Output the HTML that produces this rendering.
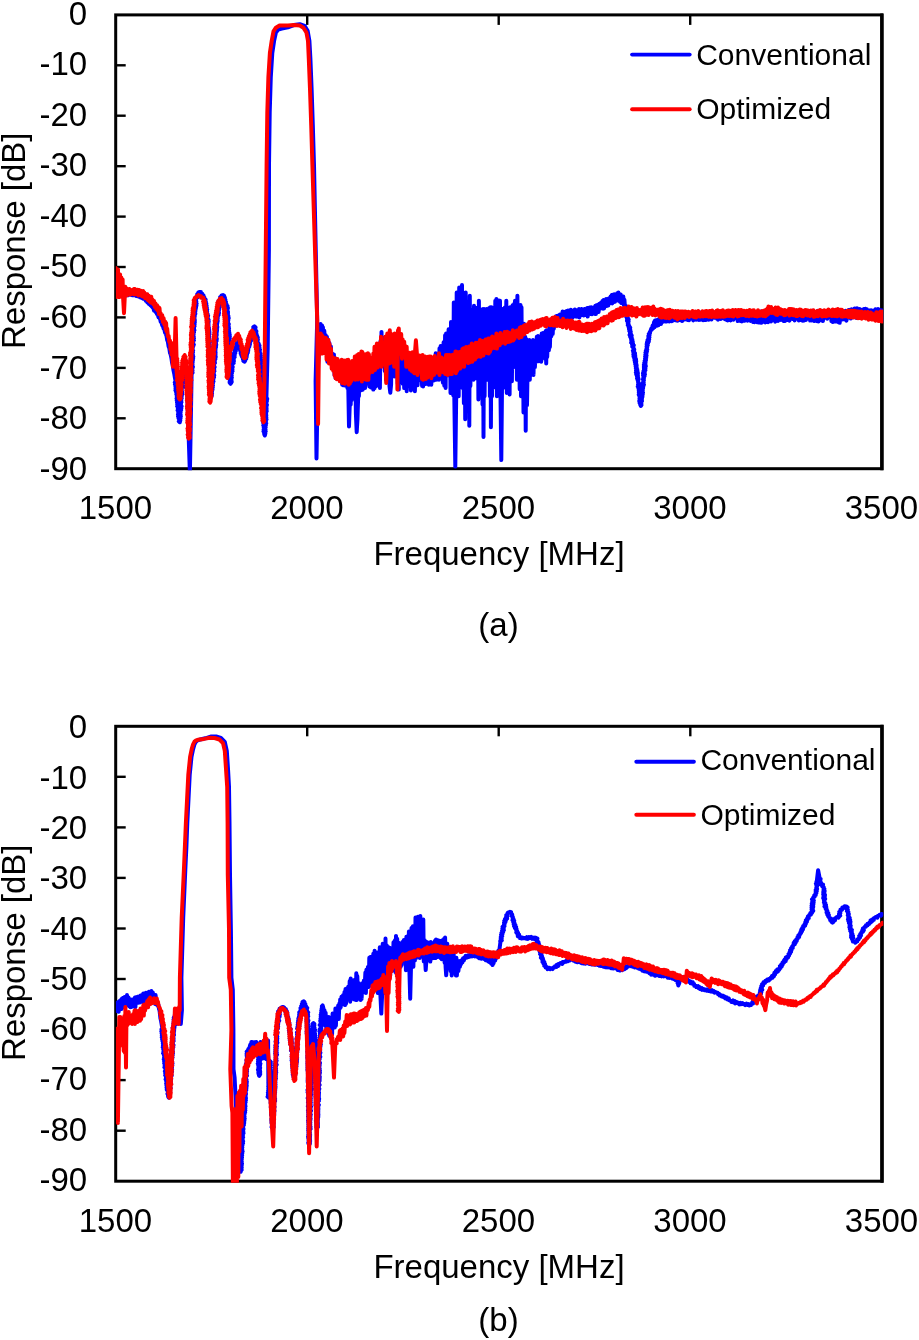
<!DOCTYPE html>
<html><head><meta charset="utf-8"><title>Response vs Frequency</title>
<style>
html,body{margin:0;padding:0;background:#fff;}
svg{display:block}
.t{font-family:"Liberation Sans",sans-serif;font-size:33px;fill:#000}
.l{font-family:"Liberation Sans",sans-serif;font-size:30px;fill:#000}
</style></head><body>
<svg width="919" height="1340" viewBox="0 0 919 1340">
<rect width="919" height="1340" fill="#fff"/>
<clipPath id="c1"><rect x="115.9" y="14.9" width="767.3" height="455.3"/></clipPath>
<rect x="115.7" y="14.9" width="766.0" height="453.8" fill="none" stroke="#000" stroke-width="3"/>
<line x1="882.0" y1="13.4" x2="882.0" y2="470.2" stroke="#000" stroke-width="3.4"/>
<line x1="115.7" y1="65.3" x2="125.7" y2="65.3" stroke="#000" stroke-width="2.4"/>
<line x1="115.7" y1="115.7" x2="125.7" y2="115.7" stroke="#000" stroke-width="2.4"/>
<line x1="115.7" y1="166.2" x2="125.7" y2="166.2" stroke="#000" stroke-width="2.4"/>
<line x1="115.7" y1="216.6" x2="125.7" y2="216.6" stroke="#000" stroke-width="2.4"/>
<line x1="115.7" y1="267.0" x2="125.7" y2="267.0" stroke="#000" stroke-width="2.4"/>
<line x1="115.7" y1="317.4" x2="125.7" y2="317.4" stroke="#000" stroke-width="2.4"/>
<line x1="115.7" y1="367.9" x2="125.7" y2="367.9" stroke="#000" stroke-width="2.4"/>
<line x1="115.7" y1="418.3" x2="125.7" y2="418.3" stroke="#000" stroke-width="2.4"/>
<line x1="307.2" y1="14.9" x2="307.2" y2="24.9" stroke="#000" stroke-width="2.4"/>
<line x1="498.7" y1="14.9" x2="498.7" y2="24.9" stroke="#000" stroke-width="2.4"/>
<line x1="690.2" y1="14.9" x2="690.2" y2="24.9" stroke="#000" stroke-width="2.4"/>
<path clip-path="url(#c1)" d="M115.9,283.6 L116.6,274.1 L117.4,292.0 L118.1,279.3 L118.9,293.4 L119.6,280.0 L120.3,292.9 L121.1,282.0 L121.8,294.0 L122.6,285.9 L123.3,293.0 L124.0,287.8 L124.5,296.1 L125.0,289.2 L125.6,295.6 L126.2,291.7 L126.7,295.3 L127.2,292.3 L127.9,295.3 L128.7,292.8 L129.4,294.0 L130.1,292.8 L130.9,294.7 L131.6,292.8 L132.4,295.3 L133.1,293.2 L133.9,295.3 L134.4,293.4 L134.9,295.3 L135.4,293.7 L136.1,295.9 L136.9,294.4 L137.6,296.2 L138.3,295.1 L139.1,296.7 L139.8,295.6 L140.6,297.4 L141.3,296.2 L142.1,298.0 L142.6,296.6 L143.1,298.6 L143.6,297.7 L144.3,299.0 L145.1,298.9 L145.8,300.7 L146.6,300.1 L147.3,302.5 L148.0,301.4 L148.8,303.9 L149.5,302.9 L150.3,305.1 L150.8,304.0 L151.3,305.9 L151.8,305.2 L152.5,307.4 L153.3,307.7 L154.0,310.4 L154.8,309.7 L155.5,311.9 L156.3,312.0 L157.0,314.1 L157.7,314.2 L158.5,317.1 L159.0,316.3 L159.5,318.3 L160.0,318.4 L160.7,321.8 L161.4,321.8 L162.2,325.4 L162.9,325.8 L163.6,328.6 L164.3,329.1 L165.1,332.7 L165.6,332.7 L166.1,334.7 L166.5,335.8 L167.2,340.1 L167.9,341.9 L168.6,346.5 L169.3,348.1 L170.0,352.9 L170.5,354.1 L171.0,356.0 L171.4,358.0 L172.1,362.9 L172.8,365.8 L173.5,370.4 L174.2,373.5 L174.9,377.7 L175.6,381.3 L174.8,382.4 L176.4,383.2 L175.0,384.4 L176.5,385.3 L175.5,386.4 L177.2,387.2 L175.6,388.4 L176.8,389.3 L175.5,390.4 L177.1,391.3 L176.2,392.4 L177.7,393.2 L176.4,394.4 L177.6,395.3 L176.8,396.3 L177.6,397.3 L176.6,398.4 L177.9,399.3 L176.8,400.4 L178.2,401.3 L177.1,402.4 L178.9,403.2 L177.3,404.4 L178.8,405.2 L177.2,406.4 L178.7,407.3 L177.9,408.4 L179.4,409.2 L177.6,410.4 L179.1,411.3 L178.3,412.4 L179.7,413.2 L178.0,414.4 L179.5,415.3 L178.1,416.4 L180.2,417.2 L178.6,418.4 L180.1,419.3 L179.2,420.4 L180.0,421.3 L179.8,422.3 L178.8,421.3 L180.3,420.3 L179.1,419.2 L180.5,418.3 L179.1,417.2 L180.8,416.3 L179.6,415.2 L180.6,414.3 L179.4,413.2 L180.6,412.2 L179.8,411.2 L181.1,410.2 L179.5,409.1 L181.3,408.2 L180.0,407.1 L181.6,406.2 L180.2,405.1 L181.0,404.1 L180.2,403.1 L181.4,402.1 L180.5,401.0 L181.3,400.1 L180.4,399.0 L181.7,398.1 L180.7,397.0 L181.7,396.0 L180.2,394.9 L182.3,394.0 L180.5,392.9 L182.1,392.0 L180.6,390.9 L181.8,389.9 L181.1,388.9 L181.9,387.9 L180.6,386.8 L182.5,385.9 L180.7,384.8 L182.1,383.9 L181.0,382.8 L182.5,381.9 L181.0,380.8 L182.5,379.8 L181.0,378.7 L182.4,377.8 L181.4,376.7 L183.0,375.8 L182.2,374.7 L183.3,373.9 L181.7,372.6 L183.5,371.8 L181.9,370.5 L184.0,369.8 L182.6,368.5 L184.1,367.7 L182.5,366.4 L184.5,365.6 L183.1,364.4 L184.8,363.6 L183.1,362.3 L184.9,361.5 L183.6,360.3 L185.1,359.4 L184.7,358.3 L184.0,359.4 L185.6,360.3 L184.5,361.4 L185.8,362.3 L184.0,363.4 L186.1,364.3 L184.4,365.4 L185.9,366.3 L184.5,367.4 L186.2,368.3 L184.9,369.4 L186.6,370.3 L185.3,371.4 L186.7,372.3 L185.5,373.4 L186.7,374.4 L185.4,375.5 L186.6,376.4 L185.4,377.5 L186.9,378.4 L185.6,379.5 L187.4,380.4 L186.0,381.5 L186.9,382.4 L186.1,383.5 L187.6,384.4 L186.4,385.5 L187.3,386.5 L186.0,387.6 L187.9,388.4 L187.1,389.5 L189.9,473.2 L191.6,374.7 L191.0,373.7 L192.6,372.7 L191.1,371.7 L192.5,370.7 L191.3,369.7 L192.4,368.7 L190.9,367.6 L192.9,366.7 L190.9,365.6 L192.5,364.7 L191.2,363.6 L192.6,362.6 L191.6,361.6 L192.8,360.6 L191.2,359.5 L193.1,358.6 L191.4,357.5 L193.3,356.6 L191.8,355.5 L192.8,354.6 L191.7,353.5 L192.9,352.5 L192.0,351.5 L193.1,350.5 L191.7,349.5 L192.6,348.5 L191.9,347.4 L193.2,346.5 L191.8,345.4 L193.8,344.5 L192.2,343.3 L193.2,342.4 L192.6,341.3 L193.9,340.4 L192.7,339.3 L193.9,338.3 L192.4,337.2 L193.7,336.3 L192.3,335.2 L193.6,334.2 L192.9,333.2 L194.0,332.2 L193.1,331.1 L194.4,330.2 L193.0,329.1 L194.0,328.1 L193.3,327.1 L194.5,326.1 L193.1,325.0 L194.6,324.1 L193.0,323.0 L194.8,322.0 L192.9,320.9 L194.8,320.0 L194.0,318.9 L194.6,317.9 L193.6,316.8 L194.8,315.9 L194.2,314.8 L195.3,313.8 L193.9,312.6 L195.3,311.7 L194.4,310.6 L195.6,309.7 L194.3,308.5 L196.0,307.6 L194.6,306.4 L196.4,305.6 L195.0,304.4 L196.6,303.5 L194.9,302.2 L196.3,301.4 L195.1,300.2 L196.2,299.2 L195.8,298.0 L197.4,297.6 L196.8,296.2 L198.5,295.9 L197.3,294.2 L199.2,293.9 L198.4,292.5 L199.4,291.9 L200.9,292.0 L200.2,294.1 L202.3,293.7 L201.8,295.6 L203.6,295.4 L203.3,297.1 L204.4,297.6 L203.7,298.7 L205.6,299.5 L204.1,300.8 L205.8,301.5 L204.7,302.7 L206.3,303.5 L204.4,304.9 L206.6,305.6 L205.1,306.8 L206.8,307.6 L205.5,308.9 L207.2,309.6 L205.5,310.9 L207.1,311.7 L206.3,312.9 L207.5,313.8 L206.3,315.0 L208.1,315.7 L206.7,317.0 L207.8,317.9 L207.7,318.9 L208.6,319.9 L207.4,321.0 L208.7,321.9 L207.4,323.0 L208.5,324.0 L207.1,325.1 L208.5,326.0 L207.7,327.1 L208.9,328.1 L207.4,329.2 L209.2,330.1 L207.5,331.2 L209.4,332.1 L207.8,333.2 L209.5,334.2 L208.2,335.3 L209.1,336.2 L208.0,337.3 L209.3,338.3 L207.9,339.4 L209.6,340.3 L208.2,341.4 L209.9,342.3 L208.3,343.4 L209.6,344.4 L208.5,345.5 L210.1,346.4 L208.3,347.5 L209.3,348.5 L208.9,349.5 L210.3,350.5 L208.4,351.5 L210.1,352.5 L208.7,353.5 L210.0,354.5 L208.8,355.5 L210.2,356.5 L208.8,357.5 L210.0,358.5 L208.6,359.6 L210.4,360.5 L209.1,361.6 L210.7,362.5 L209.1,363.6 L210.5,364.5 L209.0,365.6 L210.3,366.5 L209.2,367.6 L210.6,368.5 L209.0,369.6 L211.0,370.5 L209.6,371.6 L210.8,372.6 L209.7,373.6 L210.8,374.6 L209.3,375.6 L211.2,376.6 L209.6,377.6 L210.8,378.6 L209.9,379.6 L211.1,380.6 L209.4,381.7 L210.8,382.6 L209.6,383.7 L210.8,384.6 L210.1,385.7 L211.0,386.6 L209.8,387.7 L211.2,388.6 L210.1,389.7 L211.5,390.7 L210.3,391.7 L211.6,392.7 L210.4,393.7 L211.5,394.7 L210.4,395.7 L211.4,396.7 L210.9,397.7 L210.3,396.6 L211.8,395.7 L210.7,394.6 L212.0,393.7 L210.7,392.5 L212.0,391.6 L211.2,390.5 L212.5,389.6 L211.1,388.4 L212.7,387.5 L211.1,386.3 L212.9,385.5 L211.3,384.3 L212.9,383.4 L211.6,382.2 L213.5,381.4 L211.7,380.2 L213.3,379.3 L212.3,378.2 L214.0,377.3 L212.6,376.1 L214.2,375.2 L212.3,374.0 L213.8,373.1 L213.0,372.0 L214.4,371.1 L213.2,370.0 L214.2,369.0 L213.0,367.9 L214.6,367.0 L213.2,365.8 L214.2,364.9 L213.9,363.9 L214.9,362.9 L213.6,361.8 L214.8,360.9 L214.1,359.9 L215.4,358.9 L213.7,357.8 L215.7,356.9 L214.4,355.9 L215.5,354.9 L214.0,353.8 L215.6,352.9 L214.2,351.8 L215.5,350.9 L214.8,349.9 L215.6,348.9 L214.9,347.9 L216.0,346.9 L214.7,345.8 L216.2,344.9 L215.1,343.8 L216.0,342.9 L215.1,341.8 L216.6,340.9 L214.7,339.8 L216.8,338.9 L215.5,337.8 L216.3,336.9 L214.9,335.8 L216.7,334.9 L215.2,333.8 L216.7,332.9 L215.5,331.8 L217.0,330.9 L215.7,329.8 L217.1,328.9 L216.1,327.8 L217.3,326.9 L215.6,325.8 L217.1,324.9 L216.7,323.9 L217.4,322.9 L216.1,321.7 L217.7,320.9 L216.7,319.7 L217.7,318.8 L216.7,317.6 L217.9,316.7 L216.7,315.5 L218.7,314.7 L217.1,313.5 L219.0,312.7 L217.4,311.5 L218.9,310.6 L217.7,309.4 L219.2,308.6 L217.6,307.3 L219.7,306.5 L218.4,305.3 L220.0,304.5 L218.3,303.2 L220.1,302.4 L218.5,301.2 L220.1,300.3 L219.6,299.2 L221.1,299.0 L220.2,297.0 L222.2,297.3 L221.6,295.4 L222.9,295.1 L224.1,295.8 L223.1,297.4 L224.9,297.8 L224.2,299.3 L225.4,299.9 L224.7,301.4 L226.0,302.0 L225.6,303.4 L226.5,304.2 L225.8,305.2 L227.5,306.1 L226.3,307.2 L227.9,308.1 L226.2,309.2 L227.6,310.1 L226.4,311.3 L228.0,312.1 L226.6,313.3 L228.0,314.1 L226.5,315.3 L228.4,316.1 L226.9,317.3 L228.7,318.1 L226.9,319.3 L228.3,320.2 L227.3,321.3 L228.2,322.2 L227.4,323.3 L228.8,324.2 L227.7,325.3 L228.7,326.3 L227.9,327.3 L229.0,328.3 L228.1,329.4 L229.0,330.3 L227.6,331.4 L229.3,332.4 L228.0,333.5 L229.7,334.4 L228.0,335.5 L229.8,336.4 L228.1,337.5 L229.8,338.5 L228.6,339.5 L229.7,340.5 L228.2,341.6 L229.4,342.6 L228.1,343.7 L229.6,344.6 L228.5,345.7 L229.7,346.6 L228.6,347.7 L230.1,348.7 L229.0,349.7 L230.4,350.7 L229.5,351.8 L230.1,352.7 L228.9,353.8 L230.3,354.7 L229.0,355.8 L230.2,356.7 L228.9,357.8 L230.5,358.7 L229.2,359.8 L230.6,360.7 L229.3,361.8 L230.2,362.7 L229.4,363.8 L230.3,364.7 L229.6,365.8 L230.9,366.7 L229.5,367.8 L231.1,368.7 L229.3,369.8 L230.5,370.7 L229.2,371.8 L231.2,372.7 L229.9,373.8 L231.3,374.7 L229.7,375.8 L231.0,376.7 L229.4,377.8 L230.9,378.7 L229.8,379.8 L231.5,380.7 L229.7,381.8 L231.3,382.7 L230.6,383.8 L229.7,382.6 L231.7,381.7 L230.1,380.5 L231.4,379.6 L230.3,378.5 L231.8,377.5 L230.8,376.4 L231.7,375.4 L230.8,374.3 L231.9,373.3 L231.0,372.2 L232.5,371.2 L231.2,370.1 L232.4,369.1 L231.3,368.0 L232.7,367.0 L231.3,365.9 L232.3,364.9 L231.8,363.7 L233.7,363.1 L231.8,361.7 L233.9,361.0 L232.7,359.7 L233.8,358.9 L232.6,357.6 L234.7,357.0 L233.2,355.7 L234.7,354.9 L233.8,353.7 L235.3,352.9 L234.7,351.8 L235.8,351.0 L234.7,349.5 L236.5,349.0 L235.2,347.5 L236.8,347.0 L236.2,345.7 L238.0,345.2 L236.4,343.6 L238.6,343.2 L238.0,341.9 L238.0,343.1 L238.9,344.0 L238.3,345.3 L239.7,346.1 L238.6,347.6 L239.7,348.5 L239.6,349.5 L241.0,350.1 L240.4,351.4 L241.4,352.1 L240.7,353.4 L242.4,353.8 L241.4,355.3 L243.0,355.8 L242.2,357.1 L243.6,357.7 L243.0,359.0 L244.7,359.4 L243.4,361.0 L244.6,361.6 L245.2,360.7 L244.7,359.5 L246.2,358.7 L244.9,357.3 L246.7,356.7 L245.7,355.3 L247.0,354.6 L246.1,353.3 L247.8,352.6 L246.6,351.2 L248.2,350.5 L246.6,349.0 L248.5,348.4 L247.5,347.1 L249.3,346.4 L248.7,345.2 L249.9,344.5 L248.7,343.0 L250.2,342.4 L249.5,341.1 L251.1,340.5 L250.1,339.1 L251.2,338.3 L250.4,337.0 L252.0,336.4 L250.9,335.0 L252.5,334.4 L251.5,333.0 L253.0,332.4 L252.5,331.1 L254.0,330.5 L253.2,329.2 L254.3,328.5 L253.3,327.1 L254.4,326.3 L255.5,327.2 L254.4,328.5 L255.5,329.3 L254.7,330.6 L256.4,331.3 L255.2,332.7 L256.4,333.5 L255.4,334.8 L257.1,335.5 L255.6,336.9 L257.8,337.5 L256.1,339.0 L257.9,339.7 L256.6,341.1 L257.7,341.9 L257.4,343.0 L258.7,343.8 L257.8,345.0 L259.5,345.6 L257.8,347.0 L259.5,347.7 L258.6,348.9 L260.0,349.7 L259.1,350.9 L259.8,351.8 L259.3,352.8 L260.6,353.7 L259.6,354.8 L260.8,355.7 L259.2,356.8 L260.9,357.7 L259.3,358.8 L261.0,359.7 L259.9,360.8 L261.3,361.7 L259.5,362.8 L261.0,363.7 L260.2,364.8 L261.3,365.7 L259.9,366.8 L261.4,367.7 L259.7,368.8 L261.6,369.7 L260.0,370.8 L261.3,371.7 L260.3,372.8 L261.9,373.7 L260.7,374.8 L261.5,375.7 L260.3,376.8 L262.2,377.7 L260.9,378.7 L262.1,379.7 L261.0,380.7 L262.3,381.7 L260.7,382.8 L262.1,383.7 L261.1,384.7 L262.5,385.7 L261.0,386.8 L262.6,387.7 L261.2,388.8 L262.4,389.7 L260.9,390.8 L262.8,391.7 L261.4,392.8 L262.8,393.7 L261.3,394.8 L263.0,395.7 L261.3,396.8 L262.3,397.7 L261.8,398.8 L263.4,399.7 L261.7,400.8 L263.5,401.7 L261.7,402.9 L263.6,403.8 L261.8,404.9 L263.9,405.8 L262.1,406.9 L263.7,407.9 L262.2,409.0 L264.0,409.9 L262.6,411.0 L263.9,412.0 L262.9,413.0 L264.2,414.0 L262.4,415.1 L264.1,416.0 L263.1,417.1 L264.1,418.1 L263.1,419.2 L264.3,420.1 L262.8,421.2 L264.3,422.2 L263.4,423.3 L264.4,424.2 L263.3,425.3 L265.1,426.2 L263.8,427.3 L264.7,428.3 L263.7,429.4 L265.2,430.3 L263.5,431.4 L264.9,432.4 L264.2,433.4 L265.2,434.4 L264.8,435.5 L264.3,434.4 L265.3,433.4 L264.1,432.4 L265.7,431.4 L264.5,430.3 L265.5,429.4 L264.6,428.3 L265.6,427.3 L264.3,426.2 L265.8,425.3 L264.5,424.2 L266.2,423.3 L264.7,422.2 L265.9,421.2 L264.5,420.1 L266.5,419.2 L265.0,418.1 L266.3,417.1 L264.6,416.0 L266.3,415.1 L265.2,414.0 L266.1,413.0 L264.8,411.9 L266.7,411.0 L265.3,409.9 L266.6,409.0 L265.3,407.9 L266.5,406.9 L265.0,405.8 L266.9,404.9 L265.7,403.8 L266.5,402.8 L265.6,401.8 L266.9,400.8 L265.4,399.7 L267.2,398.8 L266.4,397.7 L267.7,348.5 L268.9,250.0 L269.0,165.0 L269.7,112.7 L270.8,76.8 L272.3,52.9 L274.1,40.9 L275.9,32.5 L278.3,29.5 L281.9,28.6 L287.9,27.4 L293.9,25.1 L299.8,24.2 L304.6,25.9 L307.6,30.7 L309.4,40.9 L310.4,58.9 L311.6,88.8 L312.8,124.7 L314.0,165.0 L317.2,320.0 L315.6,381.3 L316.5,458.4 L318.1,364.9 L320.6,323.9 L321.4,330.5 L322.0,325.4 L322.5,340.4 L322.9,327.2 L323.6,345.0 L324.3,330.8 L325.0,345.1 L325.7,335.2 L326.4,353.3 L326.9,336.8 L327.4,361.7 L327.9,339.5 L328.6,360.5 L329.4,342.9 L330.1,360.7 L330.9,346.5 L331.6,363.3 L332.4,353.8 L333.1,366.5 L333.9,354.4 L334.6,375.4 L335.1,358.2 L335.6,378.2 L336.1,358.8 L336.8,376.6 L337.5,361.1 L338.3,372.4 L339.0,362.8 L339.7,375.0 L340.4,362.7 L341.2,377.2 L341.7,363.1 L342.2,384.7 L342.6,367.3 L343.3,385.3 L344.1,367.6 L344.8,385.4 L345.5,366.9 L346.2,383.5 L346.9,366.2 L347.4,388.0 L347.9,366.4 L349.0,426.4 L350.0,397.1 L350.7,404.4 L351.2,366.4 L351.8,400.0 L352.6,368.6 L353.4,390.5 L354.2,367.7 L354.8,396.2 L355.3,366.4 L355.9,414.0 L356.7,432.2 L357.5,418.8 L358.3,392.1 L358.9,396.2 L359.4,366.4 L359.9,388.3 L360.6,366.4 L361.3,390.3 L362.0,369.5 L362.7,389.8 L363.4,368.4 L364.2,385.9 L364.6,366.4 L365.1,388.0 L365.6,370.4 L366.4,381.1 L367.1,365.9 L367.9,383.5 L368.6,365.6 L369.4,386.4 L370.1,366.3 L370.9,387.4 L371.6,364.7 L372.3,386.6 L372.8,363.1 L373.3,389.6 L373.8,362.4 L374.6,388.1 L375.3,362.5 L376.0,386.2 L376.7,361.9 L377.5,382.1 L378.2,357.3 L378.9,385.0 L379.4,350.0 L379.9,388.0 L380.5,341.1 L381.0,363.4 L381.5,331.9 L382.0,365.3 L382.7,338.5 L383.4,361.2 L384.1,338.1 L384.8,371.0 L385.5,346.0 L386.0,379.8 L386.5,341.8 L387.0,379.3 L387.9,342.6 L388.4,379.8 L388.9,341.8 L389.5,385.9 L390.3,392.8 L391.1,384.5 L391.7,336.8 L392.2,376.5 L392.8,339.1 L393.6,370.0 L394.2,336.8 L394.7,376.5 L395.2,344.8 L396.1,368.5 L396.9,346.6 L397.7,383.6 L398.3,350.0 L398.8,389.6 L398.0,356.5 L398.5,389.6 L399.0,358.5 L399.7,381.3 L400.4,363.8 L401.2,380.0 L401.9,361.5 L402.7,383.7 L403.4,358.6 L404.2,388.1 L404.9,360.5 L405.7,383.7 L406.2,359.8 L406.7,391.3 L407.2,361.6 L407.9,386.2 L408.7,365.0 L409.4,381.1 L410.1,364.2 L410.9,390.4 L411.6,365.9 L412.4,380.1 L413.1,364.8 L413.9,388.6 L414.4,363.1 L414.9,391.3 L415.4,363.5 L416.1,383.1 L416.9,368.7 L417.6,385.2 L418.3,366.9 L419.1,380.1 L419.8,364.6 L420.6,378.0 L421.3,366.7 L422.1,385.9 L422.6,364.7 L423.1,386.4 L423.6,365.1 L424.3,381.8 L425.1,366.8 L425.8,383.9 L426.6,367.9 L427.3,383.4 L428.0,365.1 L428.8,384.7 L429.5,367.6 L430.3,384.4 L430.8,363.1 L431.3,384.7 L431.7,363.5 L432.4,379.0 L433.1,360.9 L433.8,380.4 L434.5,360.4 L435.3,369.0 L435.7,353.3 L436.2,379.8 L436.8,354.6 L437.6,379.2 L438.4,354.1 L439.0,379.8 L439.5,348.3 L440.0,367.7 L440.7,345.9 L441.4,374.9 L442.2,348.1 L442.9,382.8 L443.6,342.3 L444.3,385.7 L445.1,335.3 L445.6,388.0 L446.1,333.6 L446.5,363.6 L447.2,341.0 L447.9,375.3 L448.6,329.2 L449.3,375.1 L450.0,332.4 L450.5,392.9 L451.0,322.1 L451.5,378.1 L452.4,324.1 L453.2,395.3 L453.8,302.4 L454.3,396.2 L455.3,466.6 L456.2,396.2 L456.7,292.5 L457.3,384.8 L458.1,298.4 L458.7,396.2 L459.2,287.6 L459.8,376.1 L460.6,289.2 L461.4,370.0 L462.0,285.1 L462.5,388.0 L463.0,298.2 L463.9,403.2 L464.7,304.0 L465.2,419.2 L465.7,292.5 L466.3,366.7 L467.1,305.7 L468.0,404.5 L468.8,302.0 L469.3,425.8 L469.8,295.8 L470.4,386.0 L471.2,314.0 L472.1,369.9 L472.9,309.5 L473.5,379.8 L474.0,305.7 L474.4,355.8 L475.1,317.1 L475.8,378.3 L476.5,307.9 L477.2,376.3 L477.9,317.8 L478.4,399.5 L478.9,300.7 L479.4,383.7 L480.3,309.6 L481.1,365.0 L481.9,310.8 L482.5,404.4 L483.0,308.9 L483.5,437.1 L484.1,308.9 L484.6,396.2 L485.2,319.2 L486.0,369.4 L486.6,308.9 L487.1,379.8 L487.7,311.1 L488.5,371.6 L489.3,308.0 L489.9,396.2 L490.4,307.3 L490.9,427.3 L491.5,307.3 L492.0,396.2 L492.6,310.0 L493.4,387.6 L494.2,311.8 L494.8,379.8 L495.3,300.7 L495.9,383.4 L496.4,299.1 L496.9,396.2 L497.4,304.2 L498.1,391.2 L498.8,300.4 L499.6,358.7 L500.0,300.7 L500.5,396.2 L501.3,460.1 L502.0,388.0 L502.5,308.9 L503.0,388.0 L503.5,310.6 L504.1,362.9 L504.9,307.4 L505.7,366.0 L506.3,300.7 L506.8,392.9 L507.3,318.0 L508.2,392.5 L509.0,318.1 L509.6,394.6 L510.1,307.3 L510.5,375.3 L511.2,320.3 L511.9,381.2 L512.6,305.3 L513.3,367.2 L514.0,304.1 L514.5,363.4 L515.0,300.7 L515.6,342.3 L516.4,308.8 L516.9,379.8 L517.4,295.8 L518.0,374.9 L518.8,308.1 L519.7,389.3 L520.5,305.1 L521.0,396.2 L521.5,307.3 L522.1,394.8 L522.9,324.5 L523.5,412.6 L524.0,323.7 L524.6,381.9 L525.2,336.8 L525.7,430.7 L526.2,339.1 L527.0,405.1 L527.9,349.7 L528.7,370.7 L529.3,340.1 L529.8,379.8 L530.3,346.1 L531.0,374.3 L531.8,342.5 L532.5,374.7 L533.0,340.1 L533.5,374.9 L534.1,345.7 L534.9,367.1 L535.7,340.4 L536.3,361.7 L536.8,336.8 L537.3,352.3 L538.0,336.0 L538.7,361.3 L539.4,338.3 L540.1,359.6 L540.8,338.8 L541.2,361.7 L541.7,333.6 L542.2,354.2 L542.9,332.9 L543.6,354.5 L544.3,337.3 L545.0,358.7 L545.7,330.9 L546.2,363.4 L546.7,330.3 L547.2,357.0 L548.1,331.8 L548.9,350.2 L549.4,327.0 L549.9,347.0 L550.5,326.0 L551.3,336.4 L552.2,324.7 L552.7,333.8 L553.2,321.3 L553.8,328.8 L554.6,320.5 L555.4,325.1 L556.0,316.3 L556.5,324.8 L557.0,316.1 L557.7,320.3 L558.4,315.6 L559.2,322.1 L559.9,314.5 L560.6,321.4 L561.4,314.2 L562.1,319.3 L562.6,311.4 L563.1,319.9 L563.6,311.9 L564.3,319.6 L565.1,311.7 L565.8,318.7 L566.6,310.9 L567.3,316.2 L568.0,310.4 L568.8,318.1 L569.5,311.2 L570.3,317.9 L570.8,309.8 L571.3,318.3 L571.8,310.4 L572.5,317.8 L573.3,311.0 L574.0,314.2 L574.8,309.4 L575.5,316.6 L576.3,310.3 L577.0,316.7 L577.7,310.6 L578.5,316.2 L579.0,308.9 L579.5,317.4 L580.0,309.6 L580.7,315.3 L581.5,309.1 L582.2,315.1 L583.0,309.7 L583.7,315.6 L584.5,309.0 L585.2,313.9 L586.0,309.2 L586.7,315.3 L587.2,308.1 L587.7,316.6 L588.2,308.0 L588.9,313.5 L589.7,307.6 L590.4,313.9 L591.2,307.2 L591.9,314.2 L592.7,307.7 L593.4,312.2 L594.2,307.3 L594.9,313.9 L595.4,305.7 L595.9,314.1 L596.4,305.3 L597.1,311.4 L597.9,304.7 L598.6,312.0 L599.4,303.8 L600.1,308.7 L600.9,302.7 L601.6,306.9 L602.4,301.1 L603.1,308.7 L603.6,299.9 L604.1,308.4 L604.6,300.1 L605.3,306.4 L606.1,299.1 L606.8,306.1 L607.6,298.9 L608.3,305.6 L609.1,298.3 L609.8,303.2 L610.6,296.6 L611.3,301.2 L611.8,295.0 L612.3,303.5 L612.8,294.8 L613.5,302.3 L614.2,294.2 L615.0,301.7 L615.7,294.5 L616.4,300.4 L617.2,293.3 L617.9,299.6 L618.4,292.5 L618.9,301.0 L619.3,294.4 L620.0,301.9 L620.7,294.5 L621.4,303.1 L622.1,296.4 L622.8,301.6 L623.3,296.6 L623.8,305.1 L624.4,299.7 L625.2,310.1 L625.8,305.7 L626.3,314.1 L627.2,315.6 L626.3,316.8 L627.8,317.6 L627.0,318.8 L628.7,319.6 L627.0,320.9 L628.6,321.7 L627.7,322.9 L628.5,323.9 L627.8,325.0 L629.2,325.8 L628.6,326.9 L630.2,327.6 L629.0,328.9 L630.2,329.6 L629.3,330.9 L630.7,331.6 L629.9,332.8 L630.8,333.6 L629.6,334.9 L631.7,335.5 L630.2,336.8 L631.7,337.5 L630.9,338.7 L632.3,339.5 L631.3,340.7 L632.7,341.5 L631.2,342.8 L633.0,343.4 L632.1,344.6 L633.8,345.3 L632.3,346.7 L633.5,347.4 L633.4,348.5 L634.2,349.4 L632.9,350.6 L634.2,351.4 L633.4,352.5 L635.0,353.3 L633.4,354.6 L635.2,355.3 L633.6,356.6 L635.4,357.3 L634.3,358.5 L636.0,359.3 L634.6,360.5 L636.2,361.3 L635.0,362.5 L636.2,363.3 L635.3,364.5 L636.6,365.3 L635.7,366.4 L636.7,367.3 L635.9,368.4 L637.2,369.3 L636.1,370.4 L637.5,371.3 L635.9,372.5 L637.9,373.2 L636.3,374.5 L637.9,375.3 L637.0,376.4 L638.1,377.3 L637.1,378.4 L638.6,379.2 L637.7,380.4 L638.3,381.3 L638.1,382.4 L639.0,383.3 L638.1,384.4 L639.3,385.3 L637.8,386.5 L639.8,387.4 L638.5,388.5 L639.7,389.4 L638.8,390.6 L640.3,391.5 L638.9,392.6 L640.4,393.5 L638.8,394.7 L640.7,395.6 L639.5,396.7 L640.5,397.7 L639.5,398.8 L640.5,399.7 L639.3,400.9 L640.9,401.8 L639.6,402.9 L641.3,403.8 L640.3,404.9 L640.8,405.9 L641.5,405.0 L640.5,403.8 L641.4,402.9 L640.8,401.8 L642.0,400.9 L641.1,399.7 L642.0,398.8 L641.0,397.6 L642.4,396.8 L641.4,395.6 L642.7,394.7 L641.5,393.6 L643.0,392.7 L641.4,391.5 L642.7,390.6 L642.0,389.5 L643.0,388.5 L641.8,387.4 L643.3,386.5 L642.2,385.3 L643.9,384.5 L642.6,383.3 L643.7,382.4 L643.2,381.3 L643.9,380.3 L643.0,379.2 L643.9,378.3 L643.3,377.2 L644.5,376.2 L643.1,375.1 L644.9,374.2 L643.0,373.0 L644.7,372.1 L643.5,371.0 L645.4,370.1 L644.0,368.9 L645.4,368.0 L643.9,366.9 L645.8,366.0 L643.9,364.8 L645.5,363.9 L644.3,362.8 L645.6,361.8 L644.7,360.7 L646.0,359.8 L645.1,358.7 L646.2,357.8 L645.2,356.6 L646.5,355.7 L645.4,354.6 L646.4,353.6 L645.5,352.5 L646.9,351.6 L645.9,350.5 L647.2,349.6 L646.5,348.5 L647.2,347.5 L646.6,346.3 L647.7,345.5 L646.7,344.2 L648.0,343.4 L647.0,342.2 L648.8,341.5 L647.5,340.1 L649.2,339.4 L648.3,338.2 L649.4,337.3 L648.4,336.1 L649.5,335.2 L648.8,334.0 L650.0,333.2 L649.8,332.1 L650.5,331.2 L651.2,328.9 L651.9,329.6 L652.6,325.6 L653.3,328.4 L654.0,322.1 L654.5,327.3 L655.0,320.4 L655.5,324.3 L656.2,320.3 L656.9,325.8 L657.7,319.7 L658.4,325.2 L659.1,318.7 L659.8,323.2 L660.6,318.8 L661.0,324.0 L661.5,317.1 L662.0,322.4 L662.8,318.0 L663.5,321.2 L664.3,316.9 L665.0,321.4 L665.8,316.2 L666.5,321.6 L667.3,315.6 L668.0,319.7 L668.8,316.0 L669.3,321.5 L669.8,314.7 L670.3,318.8 L671.0,314.5 L671.7,321.2 L672.5,314.9 L673.2,320.6 L674.0,314.5 L674.7,318.0 L675.5,314.2 L676.2,320.6 L677.0,314.1 L677.5,320.7 L678.0,313.9 L678.4,320.4 L679.1,313.5 L679.8,319.5 L680.6,313.4 L681.3,320.6 L681.7,312.6 L682.2,321.1 L682.7,313.5 L683.4,319.5 L684.1,313.4 L684.8,319.4 L685.5,313.8 L686.2,317.3 L686.9,312.9 L687.6,320.1 L688.3,313.9 L689.0,320.2 L689.7,313.5 L690.4,318.6 L691.1,313.4 L691.8,317.2 L692.5,313.7 L693.2,320.4 L693.9,313.3 L694.6,319.3 L695.3,313.1 L696.1,319.7 L696.8,312.7 L697.5,318.1 L698.2,313.0 L698.9,320.0 L699.6,312.6 L700.3,319.7 L701.0,312.5 L701.7,319.0 L702.4,312.4 L703.1,320.2 L703.8,312.4 L704.5,320.1 L705.2,313.2 L705.9,320.0 L706.6,312.8 L707.3,317.7 L708.0,312.8 L708.7,319.8 L709.4,313.5 L710.1,317.2 L710.8,312.3 L711.5,319.5 L712.2,312.8 L713.0,317.4 L713.7,312.6 L714.4,317.7 L715.1,312.4 L715.8,317.7 L716.5,312.4 L717.2,319.1 L717.6,312.1 L718.1,319.7 L718.6,313.3 L719.3,317.2 L720.0,312.8 L720.7,318.9 L721.4,313.0 L722.1,318.2 L722.8,313.3 L723.5,317.5 L724.2,312.1 L724.9,319.3 L725.7,312.9 L726.4,319.9 L727.1,312.1 L727.8,320.4 L728.5,312.7 L729.2,317.0 L729.9,313.6 L730.6,320.4 L731.3,312.9 L732.0,319.6 L732.7,312.8 L733.4,319.8 L734.1,313.5 L734.8,316.9 L735.5,311.9 L736.2,318.5 L737.0,311.9 L737.7,321.1 L738.4,312.1 L739.1,318.6 L739.8,313.7 L740.5,321.1 L741.2,312.1 L741.9,321.4 L742.6,312.5 L743.3,320.0 L744.0,312.2 L744.7,320.8 L745.4,313.1 L746.1,318.2 L746.8,312.0 L747.6,320.7 L748.3,312.6 L749.0,318.8 L749.7,313.6 L750.4,320.9 L751.1,312.8 L751.8,320.2 L752.5,313.1 L753.2,322.0 L753.9,311.7 L754.6,322.2 L755.3,313.5 L756.0,321.8 L756.7,312.2 L757.4,322.3 L758.1,311.9 L758.9,322.6 L759.6,312.4 L760.3,322.5 L760.7,311.4 L761.2,322.8 L761.7,311.7 L762.4,322.1 L763.1,312.1 L763.8,321.5 L764.5,311.6 L765.3,322.4 L766.0,311.4 L766.7,318.2 L767.4,311.7 L768.1,322.2 L768.8,311.4 L769.5,320.5 L770.2,313.4 L771.0,321.6 L771.7,312.9 L772.4,320.3 L773.1,311.7 L773.8,318.4 L774.5,311.7 L775.2,321.7 L776.0,312.0 L776.7,319.1 L777.4,312.1 L778.1,320.9 L778.8,312.9 L779.5,317.7 L780.2,313.1 L780.9,320.0 L781.7,312.6 L782.4,318.4 L783.1,311.1 L783.8,321.1 L784.5,311.1 L785.2,320.9 L785.9,310.9 L786.6,320.0 L787.4,312.2 L788.1,320.1 L788.8,311.6 L789.5,320.7 L790.2,311.0 L790.9,316.5 L791.6,310.8 L792.4,318.9 L793.1,312.2 L793.8,317.4 L794.2,310.7 L794.7,320.4 L795.2,311.2 L795.9,317.3 L796.6,312.2 L797.3,317.6 L798.0,312.6 L798.8,320.5 L799.5,312.6 L800.2,319.5 L800.9,311.9 L801.6,320.2 L802.3,312.5 L803.0,320.8 L803.7,311.6 L804.4,320.4 L805.2,311.2 L805.9,320.0 L806.6,311.8 L807.3,317.7 L808.0,311.2 L808.7,318.8 L809.4,311.1 L810.1,320.5 L810.8,312.5 L811.5,320.4 L812.3,310.8 L813.0,320.4 L813.7,312.1 L814.4,321.0 L815.1,312.1 L815.8,319.6 L816.5,311.9 L817.2,321.2 L817.9,310.8 L818.7,321.4 L819.4,311.2 L820.1,320.3 L820.8,310.7 L821.5,320.0 L822.2,311.3 L822.9,321.0 L823.6,311.6 L824.3,317.3 L825.1,310.9 L825.8,317.8 L826.5,311.1 L827.2,318.8 L827.9,310.8 L828.6,317.1 L829.3,311.4 L830.0,317.4 L830.7,310.9 L831.4,321.0 L832.2,312.1 L832.9,322.0 L833.6,311.0 L834.3,319.5 L835.0,312.9 L835.7,321.6 L836.4,310.9 L837.1,321.5 L837.8,313.1 L838.6,322.4 L839.3,311.9 L839.7,322.8 L840.2,310.7 L840.7,319.8 L841.4,310.7 L842.2,319.6 L842.9,312.2 L843.6,317.6 L844.4,311.2 L845.1,319.5 L845.8,310.8 L846.5,320.7 L847.3,311.4 L848.0,317.7 L848.7,310.1 L849.5,317.5 L850.2,309.8 L850.9,318.5 L851.6,309.3 L852.4,317.1 L853.1,309.7 L853.8,317.2 L854.6,308.6 L855.3,316.2 L856.0,309.0 L856.5,318.0 L857.0,308.3 L857.5,316.0 L858.2,310.1 L858.9,317.9 L859.6,309.0 L860.3,313.9 L861.0,309.7 L861.8,317.5 L862.5,309.7 L863.2,314.0 L863.9,309.1 L864.6,314.9 L865.4,308.7 L866.1,314.1 L866.8,309.3 L867.5,318.1 L868.2,310.2 L868.9,316.3 L869.7,310.6 L870.4,315.4 L871.1,310.2 L871.8,317.2 L872.5,310.8 L873.3,318.8 L874.0,310.5 L874.7,316.3 L875.4,309.2 L876.1,315.8 L876.8,309.6 L877.6,317.4 L878.0,309.0 L878.5,319.2 L879.0,309.4 L879.7,319.0 L880.4,310.8 L881.2,320.1 L881.6,310.2 L882.1,320.4" fill="none" stroke="#0000ff" stroke-width="4.0" stroke-linejoin="round" stroke-linecap="round"/>
<path clip-path="url(#c1)" d="M114.9,282.4 L115.7,267.9 L116.2,296.9 L116.7,271.3 L117.4,292.6 L118.0,269.6 L118.5,296.9 L119.0,278.4 L119.6,296.9 L120.1,274.5 L120.6,293.2 L121.3,277.4 L122.1,295.0 L122.6,279.4 L123.1,297.7 L124.0,313.2 L124.8,296.1 L125.3,286.8 L126.2,295.3 L126.7,288.4 L127.2,295.2 L127.9,290.4 L128.7,294.0 L129.4,289.1 L130.1,294.6 L130.9,289.9 L131.6,294.1 L132.4,290.0 L133.1,293.5 L133.9,289.0 L134.4,294.5 L134.9,288.9 L135.4,292.8 L136.1,291.1 L136.9,294.1 L137.6,289.7 L138.3,295.4 L139.1,290.1 L139.8,294.0 L140.6,290.7 L141.3,295.8 L142.1,292.4 L142.6,296.6 L143.1,290.9 L143.6,296.3 L144.3,292.5 L145.1,298.2 L145.8,293.9 L146.6,297.8 L147.3,294.2 L148.0,300.2 L148.8,295.7 L149.5,301.5 L150.3,297.0 L150.8,302.7 L151.3,296.8 L151.8,302.6 L152.5,299.7 L153.3,304.2 L154.0,301.0 L154.8,307.0 L155.5,303.5 L156.3,309.0 L157.0,305.1 L157.7,310.6 L158.5,307.2 L159.0,314.1 L159.5,308.1 L160.0,314.3 L160.7,313.4 L161.4,318.5 L162.2,315.2 L162.9,322.1 L163.6,318.3 L164.3,324.6 L165.1,321.4 L165.6,328.9 L166.1,322.9 L166.5,331.2 L167.2,328.7 L167.9,336.5 L168.6,335.8 L169.3,342.0 L170.0,340.6 L170.5,349.4 L171.0,342.6 L171.5,354.4 L172.4,351.9 L172.9,366.7 L173.4,356.5 L174.0,357.2 L174.8,348.5 L175.6,318.1 L176.5,356.7 L176.1,357.7 L177.2,358.7 L175.9,359.8 L177.3,360.8 L175.8,361.9 L177.6,362.8 L176.3,363.9 L177.6,364.9 L175.9,366.0 L177.7,366.9 L176.3,368.0 L177.4,369.0 L176.5,370.0 L177.8,371.0 L176.6,372.1 L177.3,373.1 L176.8,374.2 L178.2,375.0 L176.9,376.2 L178.3,377.1 L177.3,378.2 L178.5,379.1 L176.9,380.3 L178.7,381.1 L177.8,382.2 L178.6,383.2 L177.6,384.3 L178.8,385.2 L178.1,386.3 L179.0,387.2 L178.1,388.3 L179.8,389.2 L178.2,390.3 L179.6,391.2 L178.5,392.3 L179.9,393.2 L178.6,394.4 L180.2,395.2 L178.5,396.4 L180.4,397.3 L179.0,398.4 L179.8,399.4 L180.6,398.4 L178.9,397.3 L180.4,396.3 L179.6,395.3 L180.9,394.3 L179.4,393.2 L181.0,392.3 L179.6,391.2 L181.3,390.3 L179.8,389.2 L181.5,388.3 L179.6,387.1 L181.3,386.2 L179.8,385.1 L181.7,384.2 L179.9,383.1 L181.3,382.1 L180.1,381.0 L182.0,380.2 L180.2,379.0 L182.3,378.1 L180.8,377.0 L182.2,376.1 L181.1,375.0 L182.3,374.1 L180.6,372.9 L182.2,372.0 L181.2,370.9 L182.2,370.0 L181.5,368.9 L182.5,368.0 L181.7,366.9 L183.2,366.0 L182.2,364.9 L183.4,364.1 L182.1,362.8 L183.8,362.1 L182.4,360.7 L184.1,360.1 L183.1,358.8 L184.7,358.2 L183.5,356.8 L184.9,356.1 L184.7,355.0 L184.2,356.1 L185.6,357.0 L184.2,358.1 L185.5,359.0 L184.4,360.2 L186.2,361.0 L184.4,362.2 L186.2,363.0 L185.2,364.2 L186.2,365.1 L185.3,366.2 L186.2,367.1 L185.4,368.2 L186.6,369.1 L185.2,370.3 L187.0,371.1 L185.8,372.3 L187.2,373.1 L185.8,374.3 L187.3,375.2 L186.2,376.3 L187.4,377.2 L186.3,378.3 L187.8,379.2 L186.4,380.4 L187.1,381.3 L186.5,382.3 L187.9,383.3 L186.6,384.3 L188.1,385.3 L186.4,386.4 L188.2,387.3 L186.7,388.4 L188.3,389.3 L186.4,390.4 L188.5,391.3 L186.6,392.4 L187.8,393.4 L186.6,394.4 L188.5,395.4 L187.2,396.4 L188.2,397.4 L187.1,398.4 L188.5,399.4 L186.9,400.5 L188.2,401.4 L187.3,402.5 L188.2,403.5 L187.4,404.5 L188.7,405.5 L186.9,406.5 L188.4,407.5 L187.1,408.5 L189.0,409.5 L187.5,410.5 L188.7,411.5 L187.4,412.6 L189.1,413.5 L187.1,414.6 L188.4,415.6 L187.7,416.6 L189.1,417.6 L187.5,418.6 L188.9,419.6 L187.4,420.6 L189.2,421.6 L187.3,422.6 L188.9,423.6 L188.0,424.6 L189.2,425.6 L188.1,426.7 L189.2,427.6 L187.5,428.7 L189.1,429.7 L187.8,430.7 L189.0,431.7 L188.2,432.7 L189.4,433.7 L187.7,434.7 L189.7,435.7 L188.4,436.7 L189.7,437.7 L188.8,438.7 L188.1,437.7 L189.4,436.7 L188.2,435.7 L189.6,434.7 L188.3,433.7 L189.4,432.7 L188.0,431.6 L189.8,430.7 L188.2,429.6 L189.9,428.7 L188.0,427.6 L189.5,426.6 L188.2,425.6 L190.1,424.6 L188.6,423.6 L189.9,422.6 L188.6,421.6 L189.7,420.6 L188.6,419.5 L189.7,418.6 L188.3,417.5 L189.8,416.5 L188.6,415.5 L190.1,414.5 L188.4,413.5 L190.3,412.5 L188.9,411.5 L190.1,410.5 L189.2,409.4 L189.9,408.5 L189.0,407.4 L190.6,406.4 L189.3,405.4 L190.1,404.4 L188.9,403.4 L190.3,402.4 L189.3,401.4 L190.7,400.4 L189.4,399.3 L190.5,398.4 L189.2,397.3 L190.4,396.3 L189.4,395.3 L190.3,394.3 L189.3,393.3 L190.8,392.3 L189.3,391.3 L190.9,390.3 L189.1,389.2 L190.5,388.3 L189.1,387.2 L190.8,386.2 L189.5,385.2 L190.8,384.2 L189.2,383.2 L190.8,382.2 L189.8,381.2 L191.3,380.2 L189.9,379.1 L190.7,378.2 L189.5,377.1 L190.9,376.1 L189.8,375.1 L191.2,374.1 L190.4,373.1 L191.4,372.1 L189.9,371.1 L191.5,370.1 L189.8,369.0 L191.3,368.1 L189.9,367.0 L191.0,366.1 L190.3,365.0 L191.5,364.1 L189.9,363.0 L191.2,362.1 L190.0,361.0 L191.5,360.1 L190.2,359.0 L191.5,358.0 L190.5,357.0 L191.6,356.0 L190.0,355.0 L191.5,354.0 L190.1,353.0 L191.8,352.0 L190.8,351.0 L192.1,350.0 L190.9,349.0 L192.2,348.0 L190.7,346.9 L192.3,346.0 L190.5,344.9 L192.0,344.0 L190.7,342.9 L192.5,342.0 L191.1,340.9 L192.0,339.9 L191.0,338.9 L192.5,338.0 L191.1,336.9 L192.2,335.9 L190.9,334.9 L192.5,333.9 L191.1,332.9 L192.5,331.9 L191.5,330.9 L192.2,329.9 L191.6,328.9 L192.3,327.9 L191.1,326.8 L193.0,325.9 L191.6,324.8 L192.1,323.9 L191.6,322.8 L192.6,321.8 L191.7,320.7 L193.3,319.8 L191.8,318.6 L193.6,317.8 L192.1,316.6 L193.2,315.7 L192.4,314.6 L193.7,313.7 L192.6,312.5 L193.6,311.6 L192.6,310.4 L194.2,309.6 L192.8,308.4 L194.3,307.5 L193.4,306.4 L194.4,305.4 L193.6,304.3 L194.8,303.4 L193.8,302.3 L194.7,301.3 L193.7,300.2 L194.5,299.2 L194.8,298.0 L196.2,297.5 L196.5,296.3 L197.8,296.1 L198.6,295.1 L199.5,296.5 L201.1,296.3 L201.2,297.8 L203.4,297.7 L203.5,299.2 L204.5,300.2 L203.1,301.4 L204.9,302.2 L203.6,303.5 L205.1,304.3 L203.8,305.6 L205.5,306.4 L204.2,307.7 L205.9,308.4 L204.6,309.7 L205.9,310.6 L205.1,311.8 L206.6,312.6 L205.4,313.9 L207.1,314.6 L205.7,315.9 L207.3,316.7 L206.3,318.0 L206.8,318.9 L206.4,320.0 L207.9,320.9 L206.6,322.0 L207.8,323.0 L206.8,324.0 L207.9,325.0 L206.6,326.1 L208.3,327.0 L206.4,328.2 L208.3,329.1 L206.9,330.2 L208.3,331.1 L207.1,332.2 L208.3,333.2 L207.1,334.2 L208.4,335.2 L207.3,336.3 L208.3,337.2 L207.2,338.3 L208.8,339.3 L207.3,340.4 L209.1,341.3 L207.4,342.4 L208.6,343.4 L207.5,344.4 L208.9,345.4 L207.4,346.5 L208.8,347.4 L208.5,348.5 L209.2,349.5 L207.7,350.5 L209.6,351.5 L207.9,352.5 L209.2,353.5 L207.8,354.5 L209.6,355.5 L207.7,356.5 L209.6,357.5 L208.4,358.5 L209.9,359.5 L207.8,360.5 L209.5,361.5 L208.1,362.5 L209.9,363.5 L208.0,364.6 L209.8,365.5 L208.6,366.5 L209.4,367.5 L208.5,368.6 L209.8,369.5 L208.6,370.6 L210.0,371.5 L208.3,372.6 L209.8,373.5 L208.4,374.6 L209.8,375.5 L208.3,376.6 L209.8,377.5 L209.0,378.6 L210.0,379.5 L208.5,380.6 L210.2,381.5 L208.7,382.6 L210.5,383.5 L209.0,384.6 L210.6,385.6 L208.6,386.6 L210.4,387.6 L208.8,388.6 L210.7,389.6 L209.0,390.6 L210.2,391.6 L209.0,392.6 L210.5,393.6 L208.9,394.6 L210.4,395.6 L209.6,396.6 L210.4,397.6 L209.6,398.6 L210.6,399.6 L209.6,400.6 L210.6,401.6 L210.1,402.6 L209.4,401.6 L210.7,400.6 L209.6,399.5 L211.0,398.6 L210.1,397.5 L211.3,396.6 L209.9,395.4 L211.5,394.5 L209.8,393.4 L211.1,392.5 L210.0,391.4 L211.6,390.4 L210.0,389.3 L211.4,388.4 L210.2,387.3 L211.8,386.4 L210.9,385.3 L212.0,384.3 L210.4,383.2 L211.8,382.3 L210.9,381.2 L212.0,380.2 L211.3,379.1 L212.6,378.2 L211.1,377.1 L212.6,376.2 L210.9,375.0 L212.4,374.1 L211.0,373.0 L213.0,372.1 L211.2,370.9 L213.2,370.0 L211.7,368.9 L212.7,368.0 L211.4,366.9 L213.3,366.0 L212.6,364.9 L213.5,363.9 L211.9,362.8 L213.3,361.9 L212.0,360.8 L213.5,359.9 L212.5,358.9 L213.7,357.9 L212.4,356.8 L213.7,355.9 L212.3,354.8 L214.2,353.9 L212.5,352.8 L213.7,351.9 L212.7,350.8 L214.3,349.9 L212.6,348.8 L214.1,347.9 L213.2,346.8 L214.3,345.9 L213.3,344.8 L214.7,343.9 L213.6,342.8 L214.7,341.9 L213.1,340.8 L214.4,339.9 L213.7,338.8 L215.2,337.9 L213.7,336.8 L215.2,335.9 L214.0,334.8 L215.1,333.9 L214.2,332.8 L215.1,331.9 L214.3,330.8 L215.5,329.9 L214.1,328.8 L215.4,327.9 L214.2,326.8 L215.7,325.9 L214.5,324.8 L215.0,323.9 L214.8,322.8 L215.7,321.9 L214.7,320.7 L216.4,320.0 L215.3,318.8 L216.6,318.0 L215.0,316.7 L216.8,316.0 L215.5,314.7 L217.0,313.9 L215.9,312.8 L217.6,312.0 L216.1,310.8 L217.8,310.0 L216.7,308.8 L217.7,307.9 L216.8,306.8 L218.4,306.0 L217.2,304.8 L218.7,304.0 L217.4,302.8 L218.5,301.9 L218.3,300.9 L219.7,300.3 L220.0,298.7 L221.6,298.1 L221.5,299.4 L223.2,299.7 L223.2,300.9 L223.9,301.9 L222.5,303.1 L224.4,303.9 L223.0,305.2 L224.3,306.1 L223.3,307.3 L224.7,308.1 L223.8,309.3 L225.2,310.2 L224.1,311.4 L224.9,312.4 L224.0,313.4 L225.4,314.4 L224.0,315.4 L226.0,316.3 L224.4,317.4 L226.1,318.3 L224.5,319.4 L226.2,320.3 L224.6,321.4 L226.4,322.3 L224.5,323.4 L226.2,324.4 L224.4,325.5 L226.3,326.4 L225.1,327.4 L226.4,328.4 L225.2,329.4 L226.3,330.4 L224.9,331.5 L226.3,332.4 L225.2,333.5 L226.4,334.4 L225.3,335.5 L226.5,336.4 L225.2,337.5 L227.0,338.4 L225.4,339.5 L227.0,340.4 L225.3,341.5 L227.2,342.4 L225.4,343.5 L227.1,344.4 L225.5,345.5 L227.3,346.4 L225.8,347.5 L226.5,348.5 L225.7,349.5 L227.0,350.5 L225.8,351.6 L227.4,352.5 L226.0,353.6 L227.5,354.6 L225.7,355.6 L227.6,356.6 L226.0,357.7 L227.8,358.6 L225.9,359.7 L227.4,360.7 L225.9,361.7 L227.9,362.7 L226.2,363.8 L228.0,364.7 L226.6,365.8 L227.9,366.8 L226.6,367.8 L227.7,368.8 L226.4,369.9 L227.8,370.9 L226.5,371.9 L227.6,372.9 L226.9,374.0 L228.1,374.9 L226.8,376.0 L227.8,377.0 L227.3,378.0 L226.6,376.9 L228.4,376.1 L226.9,374.9 L228.6,374.1 L227.3,372.9 L228.9,372.0 L227.2,370.9 L229.0,370.0 L227.3,368.8 L229.1,368.0 L227.4,366.8 L229.3,366.0 L227.9,364.8 L229.1,363.9 L228.2,362.8 L229.6,361.9 L228.6,360.8 L229.8,359.9 L228.5,358.8 L229.9,357.9 L229.0,356.8 L229.8,355.8 L228.7,354.7 L230.1,353.8 L229.3,352.7 L229.8,351.8 L229.2,350.5 L230.8,349.9 L230.0,348.5 L232.0,348.1 L230.5,346.5 L232.5,346.1 L231.8,344.8 L233.0,344.1 L231.9,342.6 L233.1,341.9 L233.1,340.7 L234.8,340.4 L234.0,338.7 L235.9,338.6 L235.3,337.1 L237.0,336.8 L236.4,335.2 L237.9,334.9 L238.0,333.7 L238.0,334.8 L239.1,335.7 L237.9,337.1 L239.7,337.7 L239.0,339.1 L240.8,339.7 L239.7,341.1 L240.9,341.9 L240.1,343.3 L241.6,344.0 L241.3,345.2 L242.1,346.1 L241.3,347.3 L242.5,348.1 L241.6,349.4 L243.0,350.1 L242.5,351.3 L243.9,352.0 L242.5,353.5 L244.1,354.1 L242.9,355.5 L244.5,356.2 L243.4,357.5 L244.6,358.3 L245.6,357.5 L244.2,356.1 L245.5,355.3 L244.5,354.0 L246.0,353.3 L245.1,352.0 L246.7,351.3 L245.9,350.0 L246.9,349.2 L245.7,347.9 L247.7,347.2 L246.5,345.9 L248.3,345.2 L247.1,343.9 L248.4,343.1 L247.9,341.9 L249.1,341.3 L247.7,339.7 L249.6,339.3 L248.4,337.8 L250.0,337.3 L249.1,335.9 L251.0,335.5 L249.9,334.0 L251.4,333.5 L250.5,332.1 L252.0,331.5 L252.0,330.4 L251.7,331.6 L253.4,332.1 L252.5,333.5 L254.0,334.0 L253.3,335.3 L254.5,336.0 L253.7,337.3 L255.6,337.8 L254.4,339.3 L256.3,339.7 L255.2,341.1 L256.1,341.9 L255.2,343.0 L257.0,343.9 L255.6,345.0 L256.8,345.9 L255.5,347.0 L257.4,347.9 L256.0,349.0 L257.3,349.9 L256.3,351.0 L257.4,351.9 L256.6,353.0 L258.0,353.9 L256.5,355.0 L257.6,356.0 L256.4,357.1 L257.8,358.0 L256.5,359.1 L257.8,360.0 L256.9,361.1 L258.4,362.0 L257.2,363.1 L258.3,364.0 L256.9,365.1 L258.7,366.0 L257.2,367.1 L258.6,368.0 L257.9,369.1 L259.3,370.0 L257.9,371.1 L258.8,372.1 L258.5,373.1 L259.5,374.0 L258.0,375.2 L259.1,376.1 L258.2,377.3 L259.7,378.2 L258.1,379.3 L259.9,380.2 L258.8,381.3 L260.1,382.3 L258.6,383.4 L260.6,384.3 L259.1,385.5 L260.5,386.4 L259.5,387.5 L260.9,388.4 L259.6,389.5 L260.9,390.5 L259.3,391.6 L261.0,392.5 L259.4,393.7 L261.1,394.6 L259.8,395.7 L261.6,396.6 L260.4,397.7 L261.8,398.7 L260.0,399.8 L261.5,400.7 L260.3,401.9 L261.7,402.8 L260.8,403.9 L262.1,404.8 L261.5,405.9 L262.4,406.8 L261.1,408.0 L262.4,408.9 L261.5,410.1 L262.8,411.0 L261.5,412.2 L263.3,413.0 L261.6,414.2 L262.9,415.1 L262.3,416.2 L263.3,417.2 L262.5,418.3 L263.9,419.1 L262.5,420.4 L264.2,421.2 L263.5,422.3 L264.4,381.3 L265.1,315.6 L266.6,165.0 L267.3,112.7 L268.4,76.8 L269.9,52.9 L271.7,40.9 L273.5,31.3 L275.9,27.7 L279.5,25.6 L287.9,25.6 L293.9,25.1 L299.8,25.6 L303.4,27.7 L306.4,32.5 L308.0,40.9 L308.8,58.9 L310.0,88.8 L311.2,124.7 L312.4,165.0 L317.2,320.0 L318.1,424.0 L318.9,348.5 L319.8,343.7 L320.3,353.5 L320.8,333.6 L321.4,353.5 L322.0,335.2 L322.5,353.5 L322.9,339.0 L323.7,352.8 L324.4,337.5 L325.1,353.2 L325.9,338.0 L326.6,359.6 L327.3,341.9 L328.0,358.6 L328.5,340.1 L329.0,363.4 L329.5,344.0 L330.2,360.9 L331.0,348.7 L331.7,368.7 L332.4,357.1 L333.2,370.7 L333.9,358.5 L334.6,375.4 L335.1,358.2 L335.6,378.2 L336.1,360.7 L336.8,379.2 L337.5,358.9 L338.3,378.8 L339.0,361.2 L339.7,381.2 L340.4,365.6 L341.2,379.2 L341.7,359.8 L342.2,383.1 L342.6,364.1 L343.4,377.5 L344.1,360.4 L344.8,383.7 L345.6,360.7 L346.3,381.9 L347.0,359.9 L347.7,376.8 L348.2,359.8 L348.7,384.7 L349.2,365.6 L349.9,383.5 L350.7,365.4 L351.4,380.9 L352.1,361.1 L352.9,377.5 L353.6,361.2 L354.3,379.0 L354.8,356.5 L355.3,379.8 L355.8,358.0 L356.5,376.6 L357.2,354.9 L358.0,379.5 L358.7,354.0 L359.4,373.5 L360.1,358.5 L360.9,373.5 L361.4,351.6 L361.9,381.4 L362.3,351.9 L363.1,379.2 L363.8,360.5 L364.5,377.5 L365.3,354.3 L366.0,379.7 L366.7,361.2 L367.4,379.7 L367.9,353.3 L368.4,379.8 L368.9,354.2 L369.6,373.0 L370.4,358.8 L371.1,369.8 L371.8,357.8 L372.5,371.9 L373.3,353.6 L374.0,366.1 L374.5,346.7 L375.0,370.0 L375.5,349.2 L376.2,362.1 L376.9,343.5 L377.7,367.5 L378.4,344.9 L379.1,363.2 L379.8,343.0 L380.6,358.6 L381.0,336.8 L381.5,366.7 L382.1,342.4 L382.9,362.5 L383.8,344.6 L384.6,364.1 L385.2,336.8 L385.7,366.7 L386.2,382.9 L386.8,363.4 L387.3,333.6 L387.9,353.9 L388.7,337.4 L389.3,363.4 L389.8,330.3 L390.2,353.0 L390.9,333.6 L391.6,362.4 L392.3,337.9 L393.0,361.6 L393.7,344.6 L394.2,366.7 L394.7,333.6 L395.2,355.5 L396.1,336.8 L396.6,363.4 L397.1,333.6 L397.4,389.5 L398.0,330.3 L398.5,353.5 L398.8,328.6 L399.3,353.5 L399.8,334.3 L400.5,353.7 L401.2,334.1 L402.0,358.7 L402.7,339.5 L403.5,356.9 L404.2,341.7 L404.9,357.1 L405.7,346.5 L406.2,366.7 L406.7,346.7 L407.2,366.7 L407.9,354.1 L408.7,363.0 L409.4,352.8 L410.1,369.6 L410.9,353.9 L411.6,370.8 L412.4,352.3 L413.1,371.9 L413.9,356.5 L414.4,373.2 L414.9,353.3 L415.9,340.3 L417.0,354.9 L417.5,374.9 L418.0,357.8 L418.8,370.4 L419.6,355.6 L420.4,372.0 L421.2,359.0 L422.0,378.9 L422.6,354.9 L423.1,379.8 L423.6,360.8 L424.3,377.5 L425.1,356.5 L425.8,379.0 L426.6,359.5 L427.3,377.6 L428.0,356.8 L428.8,376.2 L429.5,356.6 L430.3,374.2 L430.8,356.5 L431.3,378.2 L431.8,357.4 L432.5,375.4 L433.3,357.8 L434.0,374.8 L434.8,356.0 L435.5,371.4 L436.3,360.9 L437.0,372.6 L437.7,358.5 L438.5,369.7 L439.0,353.3 L439.5,374.9 L440.0,359.5 L440.7,371.7 L441.5,357.5 L442.2,371.8 L443.0,360.1 L443.7,372.4 L444.5,358.6 L445.2,373.9 L446.0,355.1 L446.7,372.1 L447.2,354.9 L447.7,374.9 L448.2,355.0 L448.9,370.2 L449.7,355.0 L450.4,374.0 L451.2,358.7 L451.9,373.9 L452.7,354.8 L453.4,369.7 L454.2,356.6 L454.9,368.3 L455.4,351.6 L455.9,373.2 L456.4,351.7 L457.1,370.8 L457.9,356.3 L458.6,364.8 L459.4,352.1 L460.1,368.6 L460.9,352.8 L461.6,366.6 L462.4,348.9 L463.1,364.2 L463.6,348.3 L464.1,366.7 L464.6,351.4 L465.3,361.8 L466.1,347.1 L466.8,361.8 L467.6,352.0 L468.3,363.1 L469.1,346.4 L469.8,362.3 L470.6,347.3 L471.3,360.9 L471.8,343.4 L472.3,361.7 L472.8,346.7 L473.6,358.3 L474.3,346.7 L475.0,359.4 L475.8,342.7 L476.5,357.4 L477.3,342.8 L478.0,356.4 L478.8,346.6 L479.5,356.2 L480.0,340.1 L480.5,356.8 L481.0,344.4 L481.8,355.2 L482.5,341.1 L483.3,355.6 L484.0,342.6 L484.7,353.2 L485.5,339.5 L486.2,349.8 L487.0,340.4 L487.7,353.2 L488.2,338.5 L488.7,353.5 L489.2,338.4 L490.0,352.0 L490.7,339.9 L491.5,348.9 L492.2,336.4 L492.9,347.5 L493.7,338.9 L494.4,347.9 L495.2,337.0 L495.9,346.5 L496.4,333.6 L496.9,348.6 L497.4,336.5 L498.2,344.2 L498.9,335.0 L499.7,345.3 L500.4,333.1 L501.2,343.4 L501.9,334.9 L502.6,342.0 L503.4,334.5 L504.1,342.7 L504.6,331.9 L505.1,343.7 L505.6,333.9 L506.4,340.9 L507.1,331.7 L507.9,342.1 L508.6,332.4 L509.4,341.7 L510.1,334.6 L510.9,341.2 L511.6,332.7 L512.3,337.8 L512.8,330.3 L513.3,340.4 L513.8,331.2 L514.6,338.8 L515.3,332.8 L516.1,335.9 L516.8,330.4 L517.6,336.3 L518.3,331.1 L519.1,337.9 L519.8,327.7 L520.6,335.6 L521.0,327.0 L521.5,337.1 L522.0,328.6 L522.8,332.9 L523.5,325.9 L524.3,334.3 L525.0,325.0 L525.8,332.3 L526.5,326.8 L527.3,332.1 L528.0,323.9 L528.8,330.2 L529.3,322.1 L529.8,330.6 L530.3,322.4 L531.0,329.1 L531.7,321.6 L532.5,329.4 L533.2,322.4 L534.0,328.7 L534.7,322.3 L535.5,327.5 L536.2,321.4 L537.0,327.2 L537.5,320.4 L538.0,327.3 L538.4,320.7 L539.2,325.1 L539.9,319.9 L540.6,325.7 L541.3,319.6 L542.1,324.5 L542.8,319.0 L543.5,324.6 L544.2,320.5 L545.0,325.9 L545.7,318.2 L546.2,326.5 L546.7,318.0 L547.2,324.5 L547.9,319.9 L548.7,324.6 L549.4,319.9 L550.1,325.3 L550.9,319.1 L551.6,323.4 L552.4,317.8 L553.1,325.5 L553.9,317.7 L554.4,325.6 L554.9,317.1 L555.4,323.5 L556.1,317.7 L556.9,326.1 L557.6,318.1 L558.3,325.4 L559.1,320.6 L559.8,326.1 L560.6,320.7 L561.3,324.3 L562.1,321.6 L562.6,327.3 L563.1,318.8 L563.6,325.8 L564.3,320.3 L565.1,325.6 L565.8,321.1 L566.6,327.9 L567.3,320.5 L568.0,326.0 L568.8,320.8 L569.5,326.5 L570.3,322.6 L570.8,328.9 L571.3,320.4 L571.8,327.2 L572.5,321.3 L573.3,328.3 L574.0,323.3 L574.8,328.8 L575.5,322.6 L576.3,329.9 L577.0,322.5 L577.7,329.2 L578.5,322.1 L579.0,330.6 L579.5,322.1 L580.0,330.6 L580.7,325.2 L581.5,330.9 L582.2,324.5 L583.0,330.9 L583.7,325.9 L584.5,329.2 L585.2,324.4 L586.0,331.5 L586.7,323.7 L587.2,332.2 L587.7,323.7 L588.2,331.5 L588.9,323.7 L589.7,329.1 L590.4,324.6 L591.2,331.3 L591.9,323.8 L592.7,330.6 L593.4,324.6 L594.2,329.6 L594.9,322.2 L595.4,330.6 L595.9,322.1 L596.4,329.1 L597.1,321.6 L597.9,328.4 L598.6,320.7 L599.4,328.2 L600.1,319.9 L600.9,324.5 L601.6,318.5 L602.4,325.2 L603.1,319.8 L603.6,325.6 L604.1,317.1 L604.6,324.3 L605.3,318.0 L606.1,323.3 L606.8,316.6 L607.6,323.2 L608.3,316.7 L609.1,320.4 L609.8,314.0 L610.6,320.2 L611.3,312.9 L611.8,320.7 L612.3,312.2 L612.8,320.2 L613.6,311.7 L614.3,318.6 L615.0,311.3 L615.8,318.0 L616.5,310.1 L617.3,316.3 L618.0,309.4 L618.8,317.3 L619.5,309.7 L620.0,316.6 L620.5,308.1 L621.0,314.9 L621.8,309.7 L622.5,315.8 L623.3,308.2 L624.0,314.5 L624.7,307.7 L625.5,314.9 L626.2,308.9 L627.0,315.2 L627.7,308.2 L628.2,315.0 L628.7,306.5 L629.2,314.7 L630.0,308.9 L630.7,313.2 L631.5,307.1 L632.2,315.6 L632.9,308.0 L633.7,315.1 L634.4,308.4 L635.2,314.8 L635.9,308.6 L636.4,316.6 L636.9,308.1 L637.4,313.7 L638.2,310.9 L638.9,314.2 L639.7,310.1 L640.4,313.4 L641.2,309.7 L641.9,314.8 L642.6,307.6 L643.4,315.7 L644.1,308.7 L644.6,315.8 L645.1,307.3 L645.6,313.4 L646.4,307.2 L647.1,314.8 L647.9,307.1 L648.6,315.0 L649.4,307.5 L650.1,313.4 L650.9,308.7 L651.6,313.4 L652.3,307.4 L652.8,315.0 L653.3,306.5 L653.8,313.3 L654.6,308.7 L655.3,315.4 L656.1,309.8 L656.8,313.9 L657.6,309.7 L658.3,315.0 L659.1,309.5 L659.8,316.8 L660.6,308.8 L661.0,317.4 L661.5,308.9 L662.0,317.5 L662.8,309.4 L663.5,314.7 L664.3,310.5 L665.0,317.8 L665.8,311.7 L666.5,317.9 L667.3,310.3 L668.0,316.8 L668.8,310.1 L669.3,318.3 L669.8,309.8 L670.3,317.4 L671.0,311.4 L671.7,316.1 L672.5,310.8 L673.2,316.7 L674.0,312.3 L674.7,317.8 L675.5,311.1 L676.2,316.3 L677.0,311.7 L677.5,319.4 L678.0,310.9 L678.4,317.8 L679.1,311.4 L679.8,317.9 L680.6,311.6 L681.3,317.2 L681.7,311.4 L682.2,318.0 L682.7,311.4 L683.4,316.6 L684.1,311.6 L684.8,317.9 L685.5,311.4 L686.2,316.2 L686.9,313.3 L687.6,315.7 L688.3,311.8 L689.0,317.1 L689.7,312.2 L690.4,315.7 L691.1,312.6 L691.8,315.9 L692.5,311.1 L693.2,316.7 L693.9,312.3 L694.6,317.3 L695.3,311.5 L696.1,317.5 L696.8,312.5 L697.5,316.6 L698.2,311.0 L698.9,315.9 L699.6,313.0 L700.3,316.6 L701.0,312.8 L701.7,316.3 L702.4,311.2 L703.1,316.6 L703.8,312.9 L704.5,315.4 L705.2,311.3 L705.9,316.2 L706.6,311.0 L707.3,315.4 L708.0,312.3 L708.7,316.7 L709.4,311.0 L710.1,314.9 L710.8,311.4 L711.5,317.0 L712.2,310.5 L713.0,315.1 L713.7,312.4 L714.4,316.8 L715.1,312.1 L715.8,316.8 L716.5,310.7 L717.2,316.2 L717.6,310.2 L718.1,316.8 L718.6,310.9 L719.3,316.3 L720.0,311.1 L720.7,316.7 L721.4,311.0 L722.1,316.5 L722.8,310.3 L723.5,316.7 L724.2,312.1 L724.9,316.5 L725.6,311.4 L726.3,316.1 L727.0,310.7 L727.7,315.0 L728.4,310.4 L729.1,316.0 L729.9,310.8 L730.6,315.1 L731.3,312.1 L732.0,316.1 L732.7,310.1 L733.4,316.6 L734.1,311.3 L734.8,315.3 L735.5,310.1 L736.2,314.4 L736.9,311.0 L737.6,316.4 L738.3,310.0 L739.0,316.0 L739.7,310.2 L740.4,314.6 L741.1,310.1 L741.8,315.2 L742.5,310.7 L743.2,314.5 L743.9,310.7 L744.6,315.3 L745.3,312.2 L746.0,316.0 L746.8,310.8 L747.5,315.8 L748.2,311.4 L748.9,316.2 L749.6,310.0 L750.3,314.9 L751.0,311.0 L751.7,315.7 L752.4,310.6 L753.1,314.6 L753.8,310.3 L754.5,316.1 L755.2,311.6 L755.9,316.0 L756.6,311.6 L757.3,316.4 L758.0,310.2 L758.7,316.0 L759.4,311.6 L760.1,315.7 L760.8,312.1 L761.5,314.8 L762.2,311.1 L762.9,315.9 L763.7,310.7 L764.4,315.4 L765.1,310.5 L765.5,316.3 L766.0,309.7 L766.6,315.2 L767.4,308.6 L767.9,314.4 L768.4,306.6 L768.9,313.3 L769.6,307.1 L770.4,312.5 L771.1,307.1 L771.8,313.0 L772.6,308.7 L773.3,312.2 L774.0,308.9 L774.8,313.7 L775.5,307.4 L776.3,314.8 L777.0,308.4 L777.5,314.9 L778.0,307.4 L778.4,313.6 L779.1,308.7 L779.8,312.8 L780.5,309.3 L781.3,313.8 L782.0,310.0 L782.7,314.0 L783.4,310.4 L784.1,315.3 L784.8,310.0 L785.5,315.0 L786.2,310.9 L786.9,313.4 L787.6,310.5 L788.3,313.7 L789.0,309.0 L789.5,315.6 L790.0,309.0 L790.4,315.1 L791.1,309.1 L791.8,313.5 L792.5,309.2 L793.2,315.3 L793.9,309.6 L794.6,315.0 L795.3,311.0 L796.0,315.9 L796.7,310.0 L797.4,315.9 L798.2,310.5 L798.9,315.2 L799.6,309.6 L800.3,314.8 L801.0,309.8 L801.7,316.1 L802.4,311.2 L803.1,316.2 L803.8,310.8 L804.5,314.9 L805.2,309.9 L805.9,314.6 L806.6,310.3 L807.3,315.5 L808.0,310.5 L808.7,314.3 L809.4,312.0 L810.1,316.1 L810.8,310.5 L811.5,314.7 L812.2,312.1 L812.9,315.1 L813.4,310.2 L813.9,316.8 L814.3,312.5 L815.1,316.5 L815.8,312.2 L816.5,315.7 L817.2,310.9 L817.9,316.2 L818.6,311.7 L819.3,315.3 L820.0,309.9 L820.7,314.6 L821.4,310.7 L822.1,316.4 L822.8,310.9 L823.5,315.9 L824.2,310.2 L824.9,316.0 L825.6,311.9 L826.3,316.3 L827.0,310.5 L827.7,315.8 L828.4,309.5 L829.1,315.5 L829.8,310.5 L830.5,315.0 L831.2,310.5 L832.0,316.1 L832.7,309.4 L833.4,314.6 L834.1,311.2 L834.8,316.0 L835.5,309.7 L836.2,314.6 L836.9,309.9 L837.3,316.3 L837.8,309.0 L838.3,314.2 L839.0,309.9 L839.7,314.1 L840.4,309.7 L841.1,316.5 L841.8,309.8 L842.5,316.7 L843.2,310.8 L843.9,315.1 L844.6,312.2 L845.3,316.3 L846.0,311.8 L846.7,315.8 L847.4,310.8 L848.1,316.9 L848.9,310.8 L849.6,315.6 L850.3,310.7 L851.0,317.4 L851.7,310.7 L852.4,317.3 L853.1,310.7 L853.8,317.6 L854.5,310.7 L855.2,316.3 L855.9,311.3 L856.6,317.7 L857.3,311.4 L858.0,318.3 L858.7,311.6 L859.4,317.7 L860.1,313.7 L860.8,318.2 L861.3,311.4 L861.8,318.7 L862.2,312.1 L862.9,318.1 L863.6,312.7 L864.3,317.7 L865.0,311.9 L865.7,318.6 L866.4,312.9 L867.1,317.6 L867.8,311.9 L868.5,319.7 L869.2,314.3 L869.9,318.5 L870.6,312.6 L871.3,319.4 L872.1,313.4 L872.8,319.6 L873.5,314.5 L874.2,319.8 L874.9,314.4 L875.6,320.7 L876.3,312.2 L877.0,319.9 L877.7,312.6 L878.4,320.9 L879.1,313.5 L879.8,321.1 L880.5,311.6 L881.2,318.5 L881.6,311.4 L882.1,321.6" fill="none" stroke="#ff0000" stroke-width="4.0" stroke-linejoin="round" stroke-linecap="round"/>
<text x="87.1" y="24.5" text-anchor="end" class="t">0</text>
<text x="87.1" y="75.0" text-anchor="end" class="t">-10</text>
<text x="87.1" y="125.6" text-anchor="end" class="t">-20</text>
<text x="87.1" y="176.2" text-anchor="end" class="t">-30</text>
<text x="87.1" y="226.8" text-anchor="end" class="t">-40</text>
<text x="87.1" y="277.4" text-anchor="end" class="t">-50</text>
<text x="87.1" y="328.0" text-anchor="end" class="t">-60</text>
<text x="87.1" y="378.6" text-anchor="end" class="t">-70</text>
<text x="87.1" y="429.2" text-anchor="end" class="t">-80</text>
<text x="87.1" y="479.8" text-anchor="end" class="t">-90</text>
<text x="115.4" y="519.2" text-anchor="middle" class="t">1500</text>
<text x="306.9" y="519.2" text-anchor="middle" class="t">2000</text>
<text x="498.4" y="519.2" text-anchor="middle" class="t">2500</text>
<text x="689.9" y="519.2" text-anchor="middle" class="t">3000</text>
<text x="881.4" y="519.2" text-anchor="middle" class="t">3500</text>
<text transform="translate(25,240.8) rotate(-90)" text-anchor="middle" class="t">Response [dB]</text>
<text x="499" y="565.2" text-anchor="middle" class="t">Frequency [MHz]</text>
<line x1="632.1" y1="54.6" x2="689.7" y2="54.6" stroke="#0000ff" stroke-width="3.9" stroke-linecap="round"/>
<line x1="632.1" y1="109.2" x2="689.7" y2="109.2" stroke="#ff0000" stroke-width="3.9" stroke-linecap="round"/>
<text x="696.2" y="64.7" class="l">Conventional</text>
<text x="696.2" y="118.5" class="l">Optimized</text>
<text x="498.5" y="635.6" text-anchor="middle" class="t">(a)</text>
<clipPath id="c2"><rect x="115.9" y="726.3" width="767.3999999999999" height="456.4000000000001"/></clipPath>
<rect x="115.7" y="726.3" width="766.0999999999999" height="454.9000000000001" fill="none" stroke="#000" stroke-width="3"/>
<line x1="882.0999999999999" y1="724.8" x2="882.0999999999999" y2="1182.7" stroke="#000" stroke-width="3.4"/>
<line x1="115.7" y1="776.8" x2="125.7" y2="776.8" stroke="#000" stroke-width="2.4"/>
<line x1="115.7" y1="827.4" x2="125.7" y2="827.4" stroke="#000" stroke-width="2.4"/>
<line x1="115.7" y1="877.9" x2="125.7" y2="877.9" stroke="#000" stroke-width="2.4"/>
<line x1="115.7" y1="928.5" x2="125.7" y2="928.5" stroke="#000" stroke-width="2.4"/>
<line x1="115.7" y1="979.0" x2="125.7" y2="979.0" stroke="#000" stroke-width="2.4"/>
<line x1="115.7" y1="1029.6" x2="125.7" y2="1029.6" stroke="#000" stroke-width="2.4"/>
<line x1="115.7" y1="1080.1" x2="125.7" y2="1080.1" stroke="#000" stroke-width="2.4"/>
<line x1="115.7" y1="1130.7" x2="125.7" y2="1130.7" stroke="#000" stroke-width="2.4"/>
<line x1="307.2" y1="726.3" x2="307.2" y2="736.3" stroke="#000" stroke-width="2.4"/>
<line x1="498.7" y1="726.3" x2="498.7" y2="736.3" stroke="#000" stroke-width="2.4"/>
<line x1="690.3" y1="726.3" x2="690.3" y2="736.3" stroke="#000" stroke-width="2.4"/>
<path clip-path="url(#c2)" d="M115.7,1009.6 L116.5,1003.0 L117.2,1011.1 L118.0,1002.1 L118.7,1011.8 L119.5,1001.1 L120.2,1008.9 L121.0,999.8 L121.5,1008.9 L122.0,998.5 L122.5,1007.8 L123.2,997.8 L123.9,1004.8 L124.6,996.9 L125.4,1003.9 L126.1,997.0 L126.5,1005.5 L127.0,995.1 L127.6,1001.9 L128.5,997.4 L129.3,1006.4 L129.9,999.3 L130.4,1007.2 L130.9,999.8 L131.6,1006.9 L132.3,999.5 L133.0,1004.0 L133.8,999.5 L134.5,1006.8 L134.9,997.6 L135.4,1007.2 L136.0,997.2 L136.7,1002.2 L137.5,996.7 L138.3,1002.8 L139.0,996.4 L139.8,1002.6 L140.5,995.6 L141.3,1000.5 L142.1,995.0 L142.8,1002.0 L143.3,993.4 L143.8,1002.2 L144.4,993.7 L145.1,998.3 L145.9,992.8 L146.6,999.2 L147.4,993.1 L148.1,1000.9 L148.9,991.8 L149.6,998.4 L150.4,991.7 L150.9,1000.5 L151.4,990.9 L152.0,999.8 L152.8,992.6 L153.7,1000.1 L154.5,995.1 L155.1,1003.9 L155.6,995.1 L156.2,1004.4 L157.0,1001.0 L157.9,1006.0 L158.5,1005.2 L159.0,1008.9 L159.6,1010.7 L160.4,1018.0 L161.2,1021.7 L162.1,1027.2 L162.9,1028.1 L161.5,1029.2 L162.8,1030.2 L161.4,1031.3 L163.2,1032.1 L161.7,1033.3 L163.5,1034.1 L161.9,1035.3 L163.5,1036.1 L161.8,1037.3 L163.4,1038.2 L162.2,1039.3 L164.1,1040.1 L162.5,1041.2 L164.2,1042.1 L162.9,1043.2 L164.1,1044.1 L163.0,1045.2 L164.2,1046.1 L162.8,1047.3 L164.2,1048.2 L163.3,1049.2 L164.8,1050.1 L163.5,1051.2 L164.5,1052.2 L163.1,1053.3 L164.9,1054.1 L164.0,1055.2 L165.1,1056.1 L164.1,1057.2 L165.0,1058.2 L163.8,1059.3 L165.5,1060.1 L164.2,1061.2 L165.6,1062.1 L164.2,1063.2 L165.7,1064.1 L164.7,1065.2 L166.1,1066.1 L164.4,1067.3 L166.0,1068.1 L165.4,1069.2 L166.2,1070.1 L164.9,1071.3 L166.5,1072.2 L165.3,1073.3 L167.0,1074.2 L165.2,1075.4 L166.7,1076.3 L166.0,1077.4 L167.4,1078.3 L165.6,1079.5 L167.6,1080.3 L166.3,1081.5 L167.3,1082.4 L166.2,1083.6 L168.2,1084.4 L166.5,1085.6 L168.3,1086.4 L166.6,1087.7 L168.4,1088.5 L166.8,1089.7 L168.5,1090.5 L167.7,1091.7 L169.1,1092.5 L167.5,1093.8 L169.3,1094.6 L168.1,1095.8 L169.2,1096.7 L168.8,1097.7 L168.2,1096.7 L169.4,1095.8 L168.5,1094.7 L170.0,1093.8 L168.3,1092.6 L170.2,1091.8 L168.9,1090.6 L170.2,1089.7 L169.0,1088.6 L170.7,1087.8 L168.9,1086.6 L170.3,1085.7 L169.1,1084.5 L171.1,1083.7 L170.0,1082.6 L170.9,1081.7 L170.0,1080.6 L171.1,1079.7 L170.3,1078.6 L170.8,1077.6 L170.4,1076.5 L171.7,1075.6 L170.3,1074.5 L171.4,1073.5 L170.1,1072.5 L172.0,1071.5 L170.7,1070.4 L172.1,1069.5 L170.4,1068.4 L172.0,1067.4 L171.0,1066.4 L172.3,1065.4 L170.5,1064.3 L172.5,1063.4 L170.6,1062.3 L172.1,1061.3 L170.6,1060.2 L172.1,1059.3 L171.2,1058.2 L172.5,1057.3 L171.1,1056.2 L172.6,1055.2 L171.0,1054.1 L172.9,1053.2 L171.1,1052.1 L172.9,1051.2 L171.5,1050.1 L172.6,1049.1 L171.5,1048.0 L173.3,1047.1 L171.9,1046.0 L173.5,1045.1 L172.5,1044.0 L172.9,1043.0 L172.0,1041.9 L173.6,1041.0 L172.0,1039.8 L173.6,1038.9 L172.4,1037.8 L173.5,1036.9 L172.7,1035.8 L174.0,1034.9 L172.9,1033.8 L173.8,1032.8 L172.6,1031.7 L174.1,1030.8 L173.3,1029.7 L174.3,1028.7 L172.7,1027.6 L174.5,1026.7 L173.4,1025.6 L174.4,1024.6 L173.4,1023.5 L174.6,1022.6 L173.7,1021.5 L174.6,1020.6 L173.6,1019.5 L175.3,1018.6 L173.8,1017.4 L175.4,1016.5 L174.7,1015.4 L175.5,1019.2 L176.1,1010.2 L176.6,1024.0 L177.2,1010.3 L178.0,1018.3 L178.9,1009.2 L179.7,1020.4 L180.3,1008.5 L180.8,1024.0 L181.9,1010.4 L181.4,977.7 L183.2,917.9 L185.3,870.0 L186.4,846.7 L187.3,822.7 L188.5,798.8 L189.7,774.8 L191.5,756.9 L193.1,749.1 L194.5,744.3 L196.0,741.6 L197.5,740.4 L199.3,739.8 L205.3,738.3 L211.3,736.5 L216.1,736.5 L220.9,738.0 L224.8,741.9 L226.8,750.9 L228.0,768.9 L229.0,786.8 L229.5,822.7 L230.0,875.0 L230.9,929.8 L231.4,977.7 L232.8,989.7 L233.4,1030.0 L233.5,1069.2 L234.6,1077.6 L236.3,1111.2 L235.9,1112.2 L236.9,1113.2 L235.5,1114.3 L237.6,1115.2 L236.2,1116.3 L237.3,1117.3 L235.9,1118.4 L237.8,1119.3 L236.6,1120.4 L237.7,1121.3 L236.6,1122.4 L237.5,1123.4 L236.4,1124.5 L237.9,1125.4 L236.8,1126.5 L238.3,1127.4 L236.9,1128.5 L238.0,1129.5 L237.0,1130.6 L238.1,1131.5 L236.8,1132.6 L238.3,1133.5 L236.8,1134.7 L238.7,1135.6 L237.3,1136.7 L239.0,1137.6 L237.5,1138.7 L238.5,1139.7 L237.4,1140.8 L238.7,1141.7 L237.4,1142.8 L239.5,1143.7 L238.5,1144.8 L239.2,1145.8 L238.3,1146.9 L239.8,1147.8 L238.3,1149.0 L239.9,1149.9 L238.3,1151.0 L240.1,1151.9 L238.2,1153.1 L239.7,1154.0 L238.8,1155.2 L240.1,1156.1 L239.1,1157.2 L240.6,1158.1 L239.2,1159.3 L240.3,1160.2 L239.4,1161.4 L240.4,1162.3 L239.1,1163.5 L240.6,1164.4 L239.4,1165.5 L240.7,1166.5 L239.4,1167.6 L241.3,1168.5 L239.5,1169.7 L241.0,1170.6 L240.7,1171.7 L239.9,1170.6 L241.6,1169.7 L240.3,1168.6 L241.7,1167.6 L240.4,1166.6 L241.7,1165.6 L240.1,1164.5 L242.0,1163.6 L240.6,1162.5 L241.7,1161.5 L240.2,1160.4 L241.7,1159.5 L240.6,1158.4 L242.0,1157.5 L240.8,1156.4 L242.1,1155.4 L241.1,1154.4 L242.2,1153.4 L240.8,1152.3 L242.6,1151.4 L241.0,1150.3 L242.2,1149.3 L241.2,1148.3 L242.3,1147.3 L241.4,1146.2 L242.4,1145.3 L241.4,1144.2 L243.0,1143.3 L241.2,1142.2 L243.1,1141.2 L241.5,1140.1 L242.6,1139.2 L241.5,1138.1 L243.1,1137.2 L241.3,1136.1 L242.9,1135.1 L241.6,1134.0 L243.5,1133.1 L241.9,1132.0 L243.3,1131.1 L242.2,1130.0 L243.5,1129.0 L242.7,1128.0 L243.2,1127.0 L242.0,1125.8 L243.9,1124.9 L242.2,1123.7 L244.2,1122.8 L243.0,1121.6 L244.4,1120.7 L242.7,1119.5 L244.7,1118.6 L242.8,1117.4 L244.5,1116.5 L243.0,1115.3 L244.5,1114.4 L243.2,1113.2 L245.1,1112.3 L244.4,1111.2 L245.3,1110.2 L243.8,1109.1 L245.3,1108.2 L244.1,1107.1 L245.5,1106.1 L244.0,1105.0 L245.2,1104.1 L243.9,1103.0 L245.6,1102.1 L244.3,1101.0 L245.9,1100.0 L244.4,1098.9 L245.9,1098.0 L244.4,1096.9 L245.7,1095.9 L244.6,1094.9 L246.0,1093.9 L244.9,1092.8 L245.8,1091.9 L244.9,1090.8 L246.3,1089.8 L245.1,1088.8 L246.4,1087.8 L245.1,1086.7 L246.7,1085.8 L245.3,1084.7 L246.7,1083.7 L244.9,1082.6 L246.8,1081.7 L245.1,1080.6 L246.5,1079.7 L245.0,1078.6 L246.1,1077.6 L245.7,1076.5 L247.0,1075.6 L245.6,1074.4 L246.7,1073.5 L245.8,1072.4 L247.0,1071.4 L245.6,1070.3 L247.0,1069.3 L245.7,1068.2 L247.0,1067.3 L246.4,1066.2 L247.6,1065.2 L245.9,1064.1 L247.7,1063.2 L246.6,1062.1 L248.1,1061.1 L246.4,1060.0 L247.5,1059.0 L246.9,1057.9 L248.0,1057.0 L246.7,1055.8 L248.2,1054.9 L246.6,1053.8 L248.4,1052.8 L246.7,1051.7 L247.7,1050.7 L248.6,1048.6 L249.4,1048.1 L250.3,1044.6 L250.9,1045.9 L251.4,1042.1 L251.8,1045.4 L252.5,1042.1 L253.3,1045.5 L254.0,1042.2 L254.7,1044.4 L255.4,1042.3 L255.9,1045.9 L256.4,1042.1 L257.2,1044.5 L258.2,1044.0 L257.8,1045.0 L258.9,1046.0 L257.8,1047.1 L258.7,1048.1 L257.5,1049.2 L259.2,1050.1 L257.6,1051.2 L258.8,1052.2 L257.5,1053.3 L259.5,1054.3 L258.1,1055.3 L259.4,1056.3 L258.2,1057.4 L259.0,1058.4 L258.1,1059.5 L259.7,1060.4 L258.1,1061.5 L259.5,1062.5 L257.8,1063.6 L259.4,1064.6 L258.3,1065.6 L259.3,1066.6 L258.4,1067.7 L259.7,1068.7 L258.0,1069.8 L260.0,1070.7 L258.5,1071.8 L259.9,1072.8 L258.6,1073.9 L259.9,1074.9 L259.2,1075.9 L258.9,1074.9 L260.2,1073.9 L258.4,1072.8 L260.2,1071.9 L258.5,1070.8 L259.9,1069.8 L258.4,1068.7 L260.1,1067.8 L258.6,1066.7 L260.0,1065.7 L259.0,1064.7 L260.4,1063.7 L259.0,1062.6 L259.9,1061.6 L259.1,1060.6 L260.3,1059.6 L259.2,1058.6 L260.1,1057.6 L258.9,1056.5 L260.4,1055.5 L259.1,1054.5 L260.7,1053.5 L259.5,1052.4 L260.6,1051.5 L258.9,1050.4 L260.5,1049.4 L259.1,1048.3 L260.0,1047.4 L260.5,1042.1 L261.0,1059.3 L261.5,1042.7 L262.3,1056.9 L263.0,1041.9 L263.8,1058.3 L264.5,1041.8 L265.3,1056.6 L266.0,1041.6 L266.5,1059.3 L267.0,1040.5 L267.6,1059.3 L268.1,1040.5 L268.5,1097.7 L267.6,1096.7 L269.2,1095.7 L268.0,1094.6 L269.5,1093.7 L267.9,1092.6 L269.4,1091.6 L268.2,1090.5 L269.8,1089.6 L268.4,1088.5 L269.8,1087.5 L268.3,1086.4 L269.9,1085.5 L268.6,1084.4 L269.8,1083.4 L268.4,1082.3 L269.8,1081.3 L268.7,1080.3 L269.7,1079.3 L268.6,1078.2 L269.9,1077.2 L268.4,1076.2 L270.3,1075.2 L268.8,1074.1 L269.7,1073.1 L269.0,1072.1 L270.4,1071.1 L268.8,1070.0 L270.3,1069.0 L268.5,1067.9 L270.5,1067.0 L268.9,1065.9 L270.6,1064.9 L269.3,1063.9 L270.7,1062.9 L269.3,1061.8 L269.8,1060.8 L270.8,1061.8 L269.0,1062.8 L270.7,1063.8 L269.5,1064.8 L270.4,1065.8 L269.4,1066.8 L270.6,1067.8 L269.6,1068.8 L270.6,1069.8 L269.9,1070.8 L271.2,1071.8 L269.4,1072.9 L271.1,1073.8 L269.6,1074.9 L271.4,1075.8 L269.8,1076.9 L271.3,1077.8 L270.2,1078.9 L271.0,1079.8 L269.9,1080.9 L271.4,1081.8 L270.2,1082.9 L271.7,1083.8 L270.2,1084.9 L271.6,1085.8 L269.9,1086.9 L271.6,1087.8 L270.0,1088.9 L271.7,1089.8 L270.3,1090.9 L272.0,1091.8 L270.5,1092.9 L271.9,1093.9 L270.3,1094.9 L272.2,1095.9 L270.6,1096.9 L272.2,1097.9 L270.9,1098.9 L272.2,1099.9 L270.6,1100.9 L272.4,1101.9 L270.6,1103.0 L272.0,1103.9 L271.3,1104.9 L272.2,1105.9 L270.8,1107.0 L272.8,1107.9 L271.4,1108.9 L272.3,1109.9 L271.4,1111.0 L272.9,1111.9 L271.1,1113.0 L272.9,1113.9 L271.1,1115.0 L273.0,1115.9 L271.9,1117.0 L272.7,1117.9 L271.4,1119.0 L273.2,1119.9 L271.4,1121.0 L273.2,1121.9 L271.5,1123.0 L272.8,1124.0 L272.0,1125.0 L272.9,1126.0 L271.6,1127.0 L272.7,1128.0 L273.7,1127.0 L272.0,1125.9 L273.5,1125.0 L272.2,1123.9 L273.7,1123.0 L272.5,1121.9 L273.4,1120.9 L272.1,1119.9 L274.1,1119.0 L272.7,1117.9 L273.9,1116.9 L272.7,1115.9 L274.2,1114.9 L272.8,1113.8 L274.2,1112.9 L273.1,1111.8 L274.5,1110.9 L272.8,1109.8 L274.2,1108.9 L273.0,1107.8 L274.6,1106.9 L273.1,1105.8 L274.2,1104.8 L273.5,1103.8 L274.3,1102.8 L273.2,1101.7 L275.1,1100.8 L273.7,1099.7 L275.1,1098.8 L273.3,1097.7 L274.7,1096.8 L273.6,1095.7 L274.7,1094.7 L273.5,1093.7 L275.1,1092.7 L273.6,1091.7 L275.2,1090.7 L274.0,1089.7 L275.4,1088.7 L273.8,1087.6 L275.5,1086.7 L274.0,1085.6 L275.5,1084.7 L274.4,1083.6 L275.4,1082.7 L274.1,1081.6 L275.4,1080.6 L274.2,1079.6 L275.9,1078.6 L275.2,1077.6 L275.8,1076.6 L274.6,1075.6 L275.9,1074.6 L274.5,1073.6 L276.2,1072.6 L274.4,1071.5 L276.1,1070.6 L274.7,1069.6 L276.0,1068.6 L274.7,1067.6 L275.9,1066.6 L274.7,1065.5 L276.7,1064.6 L275.1,1063.6 L276.1,1062.6 L275.3,1061.6 L276.6,1060.6 L275.5,1059.6 L276.4,1058.6 L275.6,1057.6 L276.3,1056.6 L275.6,1055.6 L277.0,1054.6 L275.2,1053.5 L276.7,1052.6 L275.3,1051.5 L276.6,1050.6 L275.4,1049.5 L276.7,1048.6 L275.4,1047.5 L276.9,1046.6 L275.4,1045.5 L276.7,1044.6 L276.1,1043.5 L277.4,1042.6 L275.6,1041.5 L277.1,1040.6 L276.1,1039.5 L277.3,1038.6 L275.9,1037.5 L277.3,1036.6 L275.8,1035.5 L277.1,1034.6 L276.2,1033.5 L277.6,1032.6 L276.2,1031.5 L276.9,1030.6 L276.4,1029.5 L277.9,1028.6 L276.8,1027.5 L278.1,1026.6 L277.2,1025.5 L278.1,1024.6 L277.4,1023.5 L278.4,1022.6 L277.7,1021.4 L279.2,1020.6 L277.3,1019.3 L278.7,1018.5 L278.1,1017.4 L279.6,1016.6 L277.8,1015.3 L279.9,1014.6 L278.0,1013.3 L279.8,1012.5 L278.2,1011.3 L279.4,1010.4 L279.5,1008.8 L281.5,1009.1 L281.4,1007.4 L282.8,1007.0 L284.1,1007.4 L283.7,1009.4 L285.8,1009.0 L286.1,1010.4 L286.9,1011.3 L285.6,1012.5 L287.3,1013.2 L286.2,1014.5 L287.6,1015.2 L286.7,1016.4 L288.2,1017.2 L287.3,1018.4 L288.7,1019.1 L287.2,1020.5 L288.6,1021.2 L288.0,1022.3 L289.4,1023.1 L288.3,1024.3 L289.4,1025.1 L288.8,1026.3 L289.5,1027.2 L289.1,1028.2 L290.7,1029.1 L288.9,1030.3 L290.3,1031.2 L289.3,1032.3 L291.0,1033.1 L289.6,1034.3 L290.8,1035.2 L289.9,1036.3 L291.1,1037.2 L289.7,1038.4 L291.7,1039.2 L289.8,1040.4 L291.8,1041.2 L290.6,1042.3 L291.9,1043.2 L290.4,1044.4 L291.7,1045.3 L291.1,1046.4 L292.2,1047.3 L291.1,1048.4 L292.6,1049.3 L291.0,1050.5 L292.5,1051.3 L292.0,1052.4 L293.0,1053.3 L291.8,1054.4 L292.9,1055.4 L291.8,1056.5 L292.9,1057.4 L291.8,1058.5 L293.4,1059.4 L291.6,1060.5 L293.4,1061.4 L292.3,1062.5 L293.9,1063.4 L292.0,1064.6 L294.0,1065.4 L292.4,1066.6 L293.5,1067.5 L292.4,1068.6 L293.7,1069.5 L292.8,1070.6 L294.0,1071.5 L292.8,1072.6 L294.3,1073.5 L292.8,1074.6 L294.8,1075.5 L293.4,1076.6 L294.0,1077.6 L294.7,1076.6 L293.4,1075.4 L295.4,1074.6 L293.6,1073.3 L295.4,1072.4 L294.3,1071.2 L295.4,1070.3 L294.2,1069.1 L295.8,1068.2 L294.5,1067.0 L296.5,1066.2 L294.8,1064.9 L296.5,1064.0 L294.9,1062.8 L296.9,1061.9 L296.2,1060.8 L297.0,1059.8 L295.5,1058.7 L297.1,1057.8 L295.9,1056.7 L296.8,1055.8 L295.7,1054.7 L296.9,1053.8 L296.0,1052.7 L297.3,1051.8 L295.9,1050.7 L297.6,1049.7 L295.9,1048.6 L297.7,1047.7 L296.3,1046.6 L297.5,1045.7 L296.6,1044.6 L297.8,1043.7 L296.5,1042.6 L297.9,1041.7 L296.9,1040.6 L297.9,1039.7 L296.5,1038.6 L298.2,1037.7 L297.1,1036.6 L298.1,1035.6 L297.1,1034.6 L298.1,1033.6 L297.0,1032.5 L298.5,1031.6 L297.9,1030.6 L298.6,1029.6 L297.2,1028.4 L299.0,1027.6 L297.6,1026.4 L299.4,1025.6 L297.8,1024.4 L299.1,1023.5 L297.9,1022.4 L300.0,1021.6 L298.2,1020.4 L299.6,1019.5 L298.4,1018.3 L300.3,1017.6 L299.0,1016.4 L300.6,1015.5 L299.2,1014.3 L300.9,1013.5 L299.3,1012.3 L301.1,1011.5 L300.4,1010.4 L301.6,1009.7 L300.5,1008.1 L301.8,1007.4 L301.2,1006.0 L302.9,1005.5 L301.9,1004.0 L303.8,1003.5 L302.6,1001.9 L303.8,1001.2 L304.5,1002.0 L304.0,1003.4 L305.3,1004.1 L304.3,1005.6 L306.0,1006.1 L305.6,1007.5 L307.3,1008.0 L306.0,1009.6 L307.1,1010.4 L306.3,1011.4 L308.2,1012.4 L306.8,1013.4 L307.9,1014.4 L306.7,1015.4 L308.2,1016.4 L306.9,1017.5 L307.7,1018.4 L306.5,1019.5 L308.4,1020.5 L306.5,1021.5 L307.9,1022.5 L306.8,1023.5 L308.0,1024.5 L306.8,1025.5 L308.1,1026.5 L306.7,1027.5 L308.5,1028.5 L307.0,1029.6 L308.3,1030.5 L306.6,1031.6 L308.2,1032.6 L306.7,1033.6 L308.1,1034.6 L307.2,1035.6 L308.6,1036.6 L307.1,1037.6 L308.4,1038.6 L307.1,1039.6 L308.3,1040.6 L307.2,1041.7 L308.4,1042.6 L307.5,1043.7 L308.7,1044.6 L307.1,1045.7 L308.3,1046.7 L307.6,1047.7 L308.4,1048.7 L307.6,1049.7 L308.5,1050.7 L307.3,1051.7 L308.7,1052.7 L307.6,1053.7 L308.9,1054.7 L307.3,1055.8 L309.0,1056.7 L307.3,1057.8 L309.0,1058.8 L307.6,1059.8 L308.3,1060.8 L307.5,1061.8 L308.8,1062.8 L307.4,1063.8 L308.7,1064.8 L307.5,1065.9 L308.8,1066.9 L307.5,1067.9 L309.3,1068.9 L307.4,1069.9 L309.2,1070.9 L307.8,1071.9 L309.0,1072.9 L307.9,1073.9 L309.4,1074.9 L307.9,1076.0 L309.1,1077.0 L307.8,1078.0 L309.0,1079.0 L307.7,1080.0 L309.5,1081.0 L307.7,1082.0 L309.2,1083.0 L308.2,1084.1 L309.4,1085.1 L307.8,1086.1 L309.2,1087.1 L308.1,1088.1 L309.4,1089.1 L307.5,1090.1 L309.0,1091.1 L307.6,1092.2 L309.1,1093.2 L308.2,1094.2 L309.3,1095.2 L308.3,1096.2 L309.0,1097.2 L307.7,1098.2 L309.6,1099.2 L308.2,1100.3 L309.3,1101.3 L308.0,1102.3 L309.3,1103.3 L308.3,1104.3 L309.1,1105.3 L307.9,1106.3 L309.2,1107.3 L308.4,1108.4 L309.4,1109.4 L308.0,1110.4 L309.6,1111.4 L308.2,1112.4 L309.5,1113.4 L308.3,1114.4 L309.7,1115.4 L308.1,1116.5 L309.3,1117.5 L308.4,1118.5 L309.3,1119.5 L308.1,1120.5 L309.4,1121.5 L308.3,1122.5 L309.6,1123.5 L308.4,1124.5 L309.3,1125.6 L308.4,1126.6 L309.5,1127.6 L308.3,1128.6 L309.4,1129.6 L308.3,1130.6 L309.4,1131.6 L308.5,1132.6 L309.6,1133.6 L308.4,1134.7 L309.8,1135.7 L308.1,1136.7 L309.8,1137.7 L308.4,1138.7 L309.9,1139.7 L308.7,1140.7 L309.8,1141.7 L308.3,1142.8 L309.8,1143.8 L309.1,1144.8 L308.6,1143.8 L309.9,1142.8 L308.7,1141.8 L310.1,1140.8 L308.7,1139.8 L309.9,1138.8 L308.3,1137.7 L310.0,1136.8 L308.7,1135.7 L310.1,1134.8 L309.0,1133.7 L309.9,1132.8 L308.8,1131.7 L309.8,1130.7 L308.7,1129.7 L310.6,1128.8 L308.8,1127.7 L310.5,1126.8 L308.7,1125.7 L310.3,1124.7 L309.3,1123.7 L310.3,1122.7 L308.8,1121.7 L310.3,1120.7 L308.8,1119.7 L310.6,1118.7 L309.3,1117.7 L310.4,1116.7 L309.3,1115.7 L310.8,1114.7 L309.2,1113.7 L310.3,1112.7 L309.2,1111.7 L311.0,1110.7 L309.5,1109.7 L310.5,1108.7 L309.5,1107.7 L311.0,1106.7 L309.3,1105.6 L310.6,1104.7 L309.5,1103.6 L310.8,1102.7 L309.4,1101.6 L310.7,1100.7 L309.4,1099.6 L310.8,1098.7 L309.7,1097.6 L310.7,1096.7 L309.9,1095.6 L311.2,1094.7 L309.7,1093.6 L310.8,1092.6 L309.5,1091.6 L311.3,1090.6 L309.8,1089.6 L311.2,1088.6 L309.7,1087.6 L311.1,1086.6 L309.6,1085.6 L311.0,1084.6 L310.2,1083.6 L311.3,1082.6 L310.2,1081.6 L311.2,1080.6 L310.1,1079.6 L311.5,1078.6 L310.8,1077.6 L311.4,1076.6 L310.0,1075.5 L311.5,1074.5 L310.4,1073.5 L312.0,1072.5 L310.1,1071.4 L311.5,1070.4 L310.5,1069.4 L312.0,1068.4 L310.3,1067.3 L311.7,1066.3 L310.7,1065.3 L312.2,1064.3 L310.2,1063.2 L312.1,1062.2 L310.4,1061.1 L312.1,1060.2 L310.4,1059.1 L312.4,1058.1 L310.7,1057.0 L312.3,1056.1 L310.9,1055.0 L312.2,1054.0 L310.7,1052.9 L311.9,1051.9 L311.1,1050.9 L312.6,1049.9 L310.8,1048.8 L312.6,1047.8 L311.0,1046.8 L312.1,1045.8 L311.0,1044.7 L312.7,1043.7 L311.1,1042.7 L312.3,1041.7 L311.8,1040.6 L312.3,1039.6 L311.1,1038.5 L312.8,1037.6 L311.7,1036.4 L313.0,1035.5 L311.7,1034.3 L313.2,1033.4 L311.8,1032.2 L313.4,1031.4 L311.8,1030.2 L313.6,1029.3 L312.4,1028.1 L313.7,1027.2 L312.2,1026.0 L314.3,1025.2 L312.5,1023.9 L313.5,1023.0 L314.3,1023.9 L312.6,1025.1 L314.3,1025.9 L313.1,1027.1 L314.5,1027.9 L313.6,1029.0 L315.1,1029.9 L313.3,1031.1 L314.8,1031.9 L313.9,1033.0 L315.0,1033.9 L313.6,1035.1 L315.3,1035.9 L314.1,1037.0 L315.4,1037.9 L314.2,1039.0 L315.8,1039.9 L314.1,1041.1 L315.6,1041.9 L314.3,1043.1 L315.2,1044.0 L314.8,1045.0 L316.0,1046.0 L314.8,1047.0 L315.8,1048.0 L314.6,1049.0 L316.2,1050.0 L314.8,1051.0 L315.8,1052.0 L314.7,1053.0 L316.2,1054.0 L314.5,1055.0 L316.4,1056.0 L315.1,1057.0 L316.2,1058.0 L315.1,1059.0 L316.3,1060.0 L314.9,1061.0 L316.6,1062.0 L315.2,1063.0 L316.0,1064.0 L315.1,1065.0 L316.0,1066.0 L315.2,1067.0 L316.7,1068.0 L315.3,1069.0 L316.7,1070.0 L314.8,1071.0 L316.3,1072.0 L315.3,1073.0 L316.4,1074.0 L315.1,1075.0 L316.7,1076.0 L315.5,1077.0 L316.7,1078.0 L315.6,1079.0 L316.7,1080.0 L315.4,1081.0 L316.9,1082.0 L315.2,1083.0 L316.9,1084.0 L315.5,1085.0 L317.1,1086.0 L315.4,1087.0 L316.8,1088.0 L315.1,1089.0 L316.8,1090.0 L315.8,1091.0 L317.2,1092.0 L315.5,1093.0 L317.2,1094.0 L315.6,1095.0 L317.0,1096.0 L315.5,1097.0 L317.2,1098.0 L315.7,1099.0 L316.8,1100.0 L315.8,1101.0 L317.1,1102.0 L315.6,1103.0 L316.8,1104.0 L315.5,1105.0 L317.4,1106.0 L315.9,1107.0 L317.0,1108.0 L315.9,1109.0 L317.1,1110.0 L316.1,1111.0 L317.2,1112.0 L316.0,1113.0 L317.4,1114.0 L316.2,1115.0 L317.3,1116.0 L316.4,1117.0 L317.3,1118.0 L316.4,1119.0 L317.6,1120.0 L315.9,1121.0 L317.3,1122.0 L316.3,1123.0 L317.5,1124.0 L316.4,1125.0 L317.4,1126.0 L316.3,1127.0 L317.0,1128.0 L317.9,1127.0 L316.7,1125.9 L317.9,1125.0 L316.8,1123.9 L317.9,1123.0 L316.6,1121.9 L317.8,1120.9 L316.7,1119.9 L317.9,1118.9 L316.5,1117.9 L318.3,1116.9 L316.8,1115.9 L318.4,1114.9 L317.1,1113.9 L318.3,1112.9 L317.4,1111.8 L318.3,1110.9 L316.7,1109.8 L318.4,1108.9 L317.0,1107.8 L318.3,1106.8 L316.9,1105.8 L318.8,1104.8 L317.3,1103.8 L318.0,1102.8 L317.4,1101.8 L318.9,1100.8 L317.2,1099.8 L319.1,1098.8 L317.5,1097.8 L318.8,1096.8 L317.4,1095.8 L318.9,1094.8 L317.7,1093.8 L319.0,1092.8 L317.6,1091.8 L318.8,1090.8 L317.6,1089.8 L319.3,1088.8 L317.9,1087.8 L318.9,1086.8 L317.6,1085.8 L319.6,1084.8 L317.7,1083.8 L319.0,1082.8 L317.8,1081.8 L319.6,1080.8 L318.2,1079.8 L319.7,1078.8 L318.4,1077.8 L319.8,1076.8 L318.4,1075.8 L319.5,1074.8 L318.2,1073.8 L319.9,1072.8 L318.1,1071.8 L319.9,1070.8 L318.6,1069.8 L319.7,1068.8 L318.3,1067.8 L319.5,1066.8 L318.4,1065.8 L319.7,1064.8 L318.5,1063.8 L320.0,1062.8 L318.3,1061.8 L319.2,1060.8 L318.4,1059.7 L319.7,1058.8 L318.7,1057.7 L320.3,1056.8 L319.1,1055.7 L319.9,1054.7 L319.2,1053.6 L320.4,1052.7 L318.9,1051.6 L320.1,1050.6 L319.1,1049.6 L320.1,1048.6 L319.3,1047.5 L320.4,1046.6 L319.1,1045.5 L320.8,1044.5 L319.2,1043.5 L320.5,1042.5 L319.0,1041.4 L320.6,1040.5 L319.6,1039.4 L320.5,1038.4 L319.7,1037.4 L320.8,1036.4 L319.8,1035.3 L320.6,1034.3 L319.9,1033.3 L321.2,1032.3 L319.4,1031.2 L321.0,1030.3 L319.7,1029.2 L321.3,1028.2 L320.6,1027.2 L321.2,1026.2 L319.7,1025.0 L321.3,1024.1 L320.6,1023.0 L321.6,1022.0 L320.3,1020.9 L322.1,1020.0 L320.5,1018.8 L322.0,1017.9 L320.8,1016.7 L322.3,1015.8 L320.7,1014.6 L322.7,1013.8 L321.2,1012.6 L323.0,1011.7 L321.3,1010.5 L322.9,1009.6 L321.7,1008.4 L322.9,1007.5 L321.9,1006.3 L322.6,1005.4 L323.3,1007.8 L324.0,1014.9 L324.5,1010.2 L325.0,1025.7 L325.6,1012.7 L326.4,1029.5 L327.3,1017.6 L328.1,1033.5 L328.7,1016.9 L329.2,1035.8 L329.8,1019.6 L330.6,1030.7 L331.5,1018.2 L332.1,1034.1 L332.6,1013.6 L333.2,1023.5 L334.0,1014.8 L334.8,1027.4 L335.4,1008.5 L335.9,1025.7 L336.5,1010.5 L337.4,1015.8 L338.2,1005.4 L338.8,1019.0 L339.3,1003.5 L339.8,1008.6 L340.2,999.4 L340.7,1007.3 L341.5,996.7 L342.2,1002.6 L343.0,995.3 L343.7,1004.2 L344.5,991.9 L345.0,1005.1 L345.5,989.0 L346.0,1003.7 L346.7,988.6 L347.5,999.3 L348.2,986.7 L349.0,999.3 L349.7,981.1 L350.2,1001.7 L350.7,978.5 L351.2,998.8 L352.0,980.2 L352.7,990.6 L353.5,980.9 L354.3,999.4 L355.0,979.6 L355.8,999.9 L356.3,973.3 L356.8,999.9 L357.3,976.1 L358.0,995.8 L358.7,982.9 L359.4,993.2 L360.2,986.3 L360.6,999.9 L361.1,987.3 L361.6,998.9 L362.4,983.3 L363.1,992.5 L363.9,980.4 L364.6,987.9 L365.4,972.4 L365.9,993.0 L366.4,969.8 L367.0,985.6 L367.9,966.9 L368.7,987.0 L369.3,957.7 L369.8,986.0 L370.3,956.9 L371.1,984.6 L371.8,956.8 L372.6,980.9 L373.3,953.8 L374.1,983.3 L374.6,950.7 L375.1,986.0 L375.7,955.3 L376.6,984.5 L377.2,952.4 L377.7,993.0 L378.3,954.5 L379.2,990.2 L379.8,947.2 L380.3,993.0 L381.3,1013.6 L382.2,993.0 L382.7,943.7 L383.4,971.6 L384.3,947.0 L385.0,993.0 L385.5,938.5 L386.0,990.3 L386.8,945.5 L387.5,969.2 L388.2,947.0 L389.0,980.2 L389.7,947.7 L390.2,975.5 L390.7,949.0 L391.2,967.9 L392.0,949.1 L392.7,970.4 L393.5,942.3 L394.2,959.7 L395.0,940.2 L395.5,972.1 L396.0,935.9 L396.5,969.3 L397.2,938.7 L397.9,965.0 L398.7,942.7 L399.4,968.0 L400.2,946.3 L400.7,966.8 L401.2,943.7 L401.7,965.0 L402.4,942.1 L403.2,956.4 L403.9,939.9 L404.7,960.9 L405.4,940.5 L405.9,970.3 L406.4,936.8 L406.9,963.8 L407.6,936.2 L408.4,955.2 L408.9,931.5 L409.4,970.3 L410.2,998.8 L411.0,966.8 L411.5,928.1 L412.2,961.4 L412.9,926.3 L413.4,966.8 L414.0,930.6 L414.9,960.5 L415.5,917.6 L416.0,958.1 L416.5,920.6 L417.2,952.5 L417.9,916.8 L418.6,952.5 L419.4,923.0 L419.8,958.1 L420.3,915.9 L421.0,944.8 L421.8,919.8 L422.7,949.2 L423.3,919.4 L423.8,961.6 L424.7,940.2 L425.2,961.6 L425.7,970.1 L426.3,961.6 L426.8,942.0 L427.3,957.6 L428.1,942.4 L428.9,960.1 L429.7,944.7 L430.3,961.6 L430.8,942.0 L431.3,958.5 L432.0,944.6 L432.8,958.2 L433.5,942.9 L434.3,955.4 L435.0,940.7 L435.5,958.1 L436.0,939.4 L436.5,951.4 L437.2,939.9 L438.0,956.9 L438.7,940.4 L439.5,950.3 L440.2,940.9 L440.7,958.1 L441.2,941.1 L441.7,959.2 L442.4,940.3 L443.2,956.9 L443.9,939.0 L444.6,962.7 L445.1,937.6 L445.6,966.8 L446.2,975.3 L446.8,966.8 L447.3,943.7 L447.8,962.8 L448.5,946.7 L449.2,964.7 L450.0,951.9 L450.7,971.1 L451.2,950.7 L451.7,975.5 L452.2,952.9 L452.9,967.4 L453.7,954.2 L454.4,972.8 L455.2,958.3 L455.9,975.5 L456.4,957.7 L456.9,975.5 L457.5,960.7 L458.4,971.0 L459.3,961.2 L459.9,966.8 L460.4,961.1 L460.9,964.4 L461.6,960.3 L462.4,962.3 L463.1,958.2 L463.9,960.4 L464.6,957.2 L465.1,958.1 L465.6,955.9 L466.1,957.8 L466.9,955.7 L467.7,957.3 L468.4,955.4 L469.2,956.8 L470.0,955.0 L470.8,956.3 L471.5,954.6 L472.1,956.4 L472.6,954.2 L473.1,955.9 L473.9,955.0 L474.6,956.3 L475.4,955.1 L476.2,956.4 L477.0,955.4 L477.7,956.9 L478.5,956.1 L479.0,958.1 L479.5,955.9 L480.0,958.3 L480.7,956.5 L481.5,958.7 L482.2,956.7 L482.9,958.4 L483.6,956.9 L484.4,959.2 L485.1,957.1 L485.8,960.3 L486.5,957.4 L487.3,959.6 L487.7,957.7 L488.2,961.6 L488.8,957.7 L489.6,962.2 L490.4,958.8 L491.2,963.8 L492.0,958.0 L492.6,965.1 L493.1,957.7 L493.6,963.2 L494.4,955.7 L495.2,960.5 L495.9,954.3 L496.4,958.1 L496.9,952.4 L497.6,956.9 L498.4,950.6 L499.0,954.7 L499.5,949.0 L500.4,942.2 L500.2,941.1 L501.8,940.4 L500.7,939.1 L501.7,938.2 L500.8,937.0 L502.2,936.2 L501.1,934.9 L502.4,934.1 L501.5,932.8 L503.1,932.1 L502.1,930.8 L503.9,930.1 L502.4,928.8 L503.7,928.0 L502.6,926.7 L504.5,926.0 L503.9,924.8 L504.6,924.0 L504.0,922.7 L505.4,922.1 L504.3,920.7 L506.0,920.2 L505.1,918.9 L507.1,918.5 L506.1,917.1 L507.3,916.4 L506.3,915.1 L507.4,914.4 L507.6,913.0 L508.8,912.3 L510.0,911.8 L511.2,912.2 L511.2,913.5 L512.2,914.4 L511.5,915.8 L512.8,916.6 L512.6,917.9 L513.4,918.7 L512.5,920.1 L514.2,920.7 L513.3,922.1 L514.4,922.8 L513.7,924.1 L515.3,924.8 L514.1,926.2 L516.1,926.8 L515.0,928.2 L516.5,928.8 L516.1,930.0 L517.1,930.8 L516.3,932.3 L518.0,932.7 L517.4,934.2 L519.1,934.6 L517.9,936.3 L519.8,936.6 L519.6,937.9 L520.6,937.0 L521.7,938.5 L522.7,937.5 L523.8,938.3 L524.8,937.9 L525.9,938.7 L526.9,937.1 L528.0,938.8 L529.0,937.0 L530.0,937.9 L531.1,936.9 L532.1,938.8 L533.1,937.5 L534.1,938.9 L535.1,937.5 L536.1,937.9 L537.4,938.6 L536.4,940.0 L537.5,940.7 L536.5,942.1 L538.6,942.5 L537.4,944.0 L539.2,944.5 L538.7,945.7 L540.0,946.5 L538.4,947.9 L540.2,948.5 L539.0,949.9 L540.9,950.5 L539.9,951.8 L541.1,952.5 L540.0,953.9 L541.5,954.5 L540.9,955.7 L542.1,956.5 L540.9,957.8 L542.9,958.4 L542.2,959.6 L543.3,960.3 L542.5,961.9 L544.4,962.2 L543.6,963.7 L545.1,964.2 L544.3,965.8 L545.9,966.2 L545.7,967.5 L547.1,967.3 L547.6,969.1 L549.3,967.9 L550.1,969.2 L550.9,968.2 L552.6,969.1 L553.2,967.5 L554.4,967.5 L554.9,966.3 L556.6,966.9 L556.5,964.9 L558.4,965.9 L558.3,963.9 L559.6,964.0 L560.4,963.0 L562.2,963.9 L562.6,962.0 L564.0,962.3 L564.9,961.4 L566.0,961.8 L566.7,960.4 L568.0,961.2 L568.7,959.8 L569.9,960.5 L570.7,959.5 L571.8,959.6 L572.9,959.4 L573.6,960.7 L574.9,960.0 L575.4,961.6 L576.9,960.2 L577.4,962.2 L578.7,961.2 L579.5,962.3 L580.5,962.2 L581.4,963.1 L582.6,961.7 L583.4,963.5 L584.6,962.0 L585.4,963.7 L586.6,962.4 L587.5,963.1 L588.6,962.5 L589.4,964.0 L590.6,962.9 L591.4,964.4 L592.6,963.0 L593.4,964.5 L594.5,964.0 L595.3,964.7 L596.5,964.0 L597.4,964.9 L598.6,964.2 L599.3,965.7 L600.5,964.9 L601.3,965.9 L602.6,964.9 L603.3,966.6 L604.5,965.4 L605.2,967.1 L606.6,965.6 L607.2,967.4 L608.6,966.0 L609.3,967.5 L610.5,966.5 L611.2,968.1 L612.5,967.2 L613.2,968.5 L614.5,967.6 L615.3,968.3 L616.9,968.2 L617.5,969.9 L618.8,970.1 L620.0,970.5 L621.2,969.7 L622.3,970.1 L622.7,968.8 L624.3,969.2 L624.5,967.6 L626.2,968.1 L626.4,966.5 L628.0,966.7 L628.1,965.2 L629.3,964.9 L630.5,964.2 L631.0,966.1 L632.4,965.0 L632.9,966.8 L634.4,965.4 L634.9,967.4 L636.3,966.1 L636.8,967.8 L638.0,967.5 L638.6,968.6 L640.3,967.7 L640.7,969.3 L642.1,968.8 L642.4,970.8 L644.2,969.6 L644.5,971.4 L646.0,970.8 L646.7,971.8 L648.4,971.8 L649.3,973.2 L650.5,972.9 L651.1,974.6 L652.5,973.5 L653.3,974.6 L654.5,973.9 L655.1,975.8 L656.6,974.3 L657.4,975.3 L658.6,974.7 L659.5,976.0 L660.7,975.2 L661.7,976.3 L662.9,974.9 L663.9,976.3 L665.1,975.3 L666.1,976.2 L667.2,976.1 L667.8,977.7 L669.2,976.5 L669.8,977.8 L671.1,977.1 L671.8,978.4 L673.1,977.4 L673.7,979.0 L674.8,978.8 L675.3,979.9 L676.7,979.7 L677.4,980.5 L678.1,981.7 L677.5,983.0 L678.9,984.0 L678.3,985.4 L678.1,984.3 L679.2,983.4 L678.4,982.2 L679.8,981.4 L678.2,980.0 L680.2,979.3 L678.6,977.9 L679.7,977.0 L681.0,976.7 L682.2,977.7 L683.5,977.0 L684.0,978.2 L685.6,977.6 L685.6,979.6 L687.3,979.0 L687.6,980.4 L688.7,980.5 L689.1,981.9 L690.8,981.5 L690.7,983.3 L692.8,982.4 L692.8,984.1 L694.2,984.1 L694.3,985.8 L695.7,985.8 L696.3,987.0 L698.0,986.1 L698.3,987.9 L699.8,987.3 L700.1,989.1 L701.8,988.2 L702.1,989.9 L703.7,989.0 L704.4,990.1 L705.5,989.6 L706.5,990.7 L707.5,989.3 L708.6,990.8 L709.6,990.1 L710.3,991.4 L711.9,990.0 L712.4,991.8 L713.8,991.1 L714.4,992.6 L715.7,992.0 L716.6,992.7 L717.7,992.8 L718.1,994.3 L719.4,994.0 L719.7,995.5 L721.1,995.2 L721.5,996.4 L723.2,995.7 L723.6,997.1 L725.0,996.7 L725.3,998.5 L727.0,997.7 L727.4,999.4 L728.9,998.7 L729.4,1000.4 L730.5,1000.6 L731.2,1001.9 L732.9,1000.4 L733.3,1002.2 L734.8,1001.2 L735.1,1003.4 L736.8,1002.0 L737.5,1003.2 L738.5,1002.9 L739.4,1004.3 L740.6,1002.8 L741.4,1004.1 L742.5,1003.1 L743.4,1004.3 L744.5,1004.0 L745.3,1005.2 L746.5,1003.6 L747.4,1005.0 L748.5,1004.0 L749.3,1005.5 L750.5,1004.4 L751.4,1004.9 L751.5,1003.8 L753.0,1003.5 L752.4,1002.0 L754.3,1001.9 L753.2,1000.2 L755.0,1000.0 L754.9,998.8 L756.4,998.8 L756.2,996.8 L757.7,996.9 L758.1,995.6 L759.7,995.7 L760.1,994.5 L761.0,993.6 L759.9,992.3 L761.5,991.6 L760.2,990.2 L762.3,989.7 L760.7,988.3 L761.9,987.5 L761.3,986.1 L763.1,985.6 L762.1,984.1 L763.9,983.5 L763.6,982.3 L765.1,982.7 L765.4,980.8 L766.8,981.1 L767.2,979.5 L768.9,980.5 L769.3,978.7 L770.6,978.8 L770.8,977.6 L772.6,977.8 L772.0,975.9 L774.0,976.2 L773.7,974.6 L775.1,974.4 L774.5,972.6 L776.2,972.6 L775.9,970.9 L778.0,971.4 L777.3,969.4 L779.3,969.7 L779.3,968.3 L780.6,968.0 L779.9,966.1 L781.9,966.2 L781.2,964.5 L782.8,964.3 L782.5,962.7 L784.0,962.5 L783.7,961.0 L785.7,961.1 L784.8,959.2 L786.6,959.1 L785.9,957.3 L788.1,957.6 L788.0,956.2 L789.1,955.5 L788.5,954.0 L790.1,953.6 L789.6,952.2 L791.1,951.8 L790.1,950.1 L791.6,949.7 L791.1,948.2 L792.8,947.9 L792.2,946.4 L793.2,945.7 L793.3,944.7 L794.8,944.3 L793.8,942.7 L795.7,942.5 L794.9,941.0 L796.8,940.8 L796.3,939.4 L796.9,939.4 L797.7,938.6 L797.5,937.2 L799.1,937.0 L798.4,935.3 L799.8,934.9 L799.7,933.6 L801.0,933.1 L800.6,931.7 L802.0,931.3 L801.3,929.6 L803.0,929.4 L802.3,927.8 L803.6,927.3 L803.2,925.9 L805.2,925.7 L804.6,924.2 L805.8,923.7 L805.3,922.2 L806.9,921.8 L805.9,920.2 L807.5,919.8 L807.1,918.4 L808.8,918.1 L807.9,916.5 L809.0,915.8 L809.3,914.8 L810.9,914.7 L810.4,912.9 L812.0,912.9 L812.3,911.8 L813.2,910.8 L811.6,909.7 L812.8,908.7 L811.6,907.6 L813.2,906.7 L811.6,905.6 L813.3,904.6 L811.8,903.5 L813.6,902.6 L812.3,901.4 L813.8,900.5 L812.0,899.4 L813.0,898.4 L813.3,897.3 L814.6,896.9 L814.2,895.4 L815.7,895.1 L815.4,893.7 L816.4,893.0 L815.7,891.9 L816.8,891.0 L815.7,889.9 L817.1,888.9 L816.3,887.8 L817.0,886.8 L816.4,885.7 L817.6,884.8 L815.9,883.6 L817.2,882.7 L816.5,881.6 L817.6,880.6 L817.0,879.6 L818.1,870.2 L819.4,876.9 L818.6,878.1 L820.6,878.9 L819.3,880.2 L820.5,881.1 L820.4,882.2 L821.3,883.0 L820.9,884.7 L823.1,884.6 L822.4,886.5 L823.7,887.0 L823.5,888.0 L824.4,888.9 L823.5,890.0 L824.6,891.0 L823.3,892.0 L824.4,893.0 L823.2,894.1 L825.0,895.0 L823.5,896.1 L824.8,897.0 L823.2,898.1 L825.2,899.0 L823.9,900.1 L824.4,901.1 L823.9,902.3 L825.3,903.1 L824.6,904.3 L826.0,905.1 L824.5,906.5 L826.3,907.2 L825.6,908.5 L826.8,909.3 L826.4,910.5 L827.4,911.2 L826.6,912.6 L828.3,913.1 L827.3,914.6 L828.9,915.1 L828.2,916.5 L829.1,917.2 L829.4,918.3 L831.0,918.5 L830.3,920.2 L831.9,920.4 L831.5,921.9 L832.5,922.6 L833.5,921.9 L833.0,920.1 L835.1,920.2 L834.8,918.5 L835.8,917.9 L836.8,917.0 L838.4,917.8 L839.2,916.5 L840.2,915.6 L839.0,914.1 L840.3,913.2 L839.3,911.9 L840.8,911.0 L840.5,909.8 L842.1,909.8 L842.3,907.6 L843.9,907.8 L844.6,906.2 L846.3,906.4 L847.6,907.3 L846.5,908.8 L847.8,909.6 L846.9,911.0 L848.4,911.9 L847.9,913.2 L848.8,914.0 L847.8,915.2 L848.8,916.1 L848.3,917.2 L849.7,917.9 L848.0,919.3 L850.2,919.9 L848.4,921.2 L850.5,921.9 L849.0,923.1 L850.3,923.9 L849.6,925.1 L850.7,925.9 L849.4,927.1 L850.6,927.9 L849.9,929.1 L851.9,929.8 L850.3,931.1 L851.8,931.9 L851.1,933.0 L852.3,933.9 L851.1,935.1 L853.0,935.8 L851.1,937.2 L853.2,937.9 L852.0,939.1 L852.6,940.0 L852.9,941.6 L854.8,941.5 L855.3,942.7 L855.9,941.6 L857.3,941.4 L857.2,939.6 L858.7,939.4 L858.8,938.2 L860.0,937.5 L859.2,936.0 L861.0,935.6 L860.3,934.0 L861.4,933.3 L861.4,932.2 L862.9,931.8 L862.3,930.4 L863.9,930.1 L862.9,928.5 L864.1,927.9 L864.6,926.9 L865.9,926.7 L865.9,925.2 L867.5,925.3 L867.5,923.7 L869.2,923.9 L869.4,922.6 L870.8,922.6 L870.5,920.6 L872.2,921.0 L872.1,919.5 L873.8,919.8 L873.8,918.2 L874.8,917.9 L875.6,917.0 L877.3,917.7 L877.7,916.0 L878.8,915.8 L879.5,914.8 L881.0,915.7 L881.5,914.1 L882.6,914.2" fill="none" stroke="#0000ff" stroke-width="4.0" stroke-linejoin="round" stroke-linecap="round"/>
<path clip-path="url(#c2)" d="M115.7,1052.4 L116.5,1028.7 L117.0,1076.1 L117.9,1122.9 L118.8,1059.3 L119.3,1016.9 L119.8,1045.9 L120.3,1016.9 L120.9,1040.5 L121.8,1026.8 L122.6,1044.7 L123.2,1025.3 L123.7,1050.9 L124.3,1016.1 L124.9,1052.6 L125.4,1006.9 L126.0,1067.5 L126.5,1011.9 L127.0,1025.7 L127.6,1013.5 L128.2,1024.0 L128.7,1011.9 L129.2,1020.7 L130.0,1015.5 L130.7,1022.9 L131.5,1015.6 L132.2,1023.9 L133.0,1014.2 L133.7,1020.2 L134.5,1010.7 L134.9,1024.0 L135.4,1010.2 L135.9,1021.6 L136.6,1014.1 L137.4,1022.1 L138.1,1011.0 L138.8,1018.0 L139.5,1011.0 L140.0,1020.7 L140.5,1008.5 L141.1,1019.3 L141.9,1010.5 L142.8,1015.6 L143.3,1005.2 L143.8,1015.6 L144.3,1004.5 L145.1,1010.6 L145.8,1005.0 L146.6,1007.7 L147.3,1001.0 L148.1,1007.2 L148.8,999.3 L149.6,1003.6 L150.1,997.6 L150.6,1003.9 L151.1,999.7 L151.8,1003.4 L152.6,999.3 L153.3,1002.2 L154.0,998.3 L154.8,1003.0 L155.5,1000.1 L156.3,1003.1 L156.8,998.5 L157.3,1003.9 L157.9,1001.6 L158.7,1006.5 L159.6,1007.5 L160.4,1010.4 L161.3,1011.2 L160.1,1012.5 L161.4,1013.3 L160.4,1014.5 L162.4,1015.1 L161.0,1016.4 L162.3,1017.2 L161.0,1018.5 L162.9,1019.1 L161.9,1020.4 L162.9,1021.2 L161.9,1022.4 L163.5,1023.1 L162.5,1024.4 L163.9,1025.1 L162.8,1026.4 L163.8,1027.2 L163.0,1028.3 L164.5,1029.2 L163.7,1030.3 L165.2,1031.2 L163.3,1032.4 L164.7,1033.3 L163.7,1034.4 L165.4,1035.3 L164.1,1036.4 L165.6,1037.3 L163.9,1038.5 L165.7,1039.3 L164.5,1040.5 L165.6,1041.4 L164.8,1042.5 L165.8,1043.4 L165.1,1044.5 L166.1,1045.5 L164.8,1046.6 L166.5,1047.5 L165.0,1048.7 L167.0,1049.5 L165.2,1050.7 L166.5,1051.6 L165.3,1052.7 L166.8,1053.6 L165.6,1054.8 L167.5,1055.6 L165.9,1056.8 L167.4,1057.7 L166.5,1058.8 L167.4,1059.7 L167.1,1060.8 L168.0,1061.7 L166.8,1062.8 L168.0,1063.7 L166.9,1064.8 L167.9,1065.8 L167.0,1066.8 L168.4,1067.7 L167.0,1068.8 L168.3,1069.7 L167.1,1070.8 L168.6,1071.7 L167.2,1072.8 L168.6,1073.7 L167.0,1074.8 L169.0,1075.7 L167.7,1076.8 L168.8,1077.7 L167.9,1078.8 L169.0,1079.7 L168.1,1080.8 L169.4,1081.7 L167.9,1082.8 L169.3,1083.7 L167.8,1084.8 L169.4,1085.7 L168.1,1086.8 L169.9,1087.7 L168.3,1088.8 L169.9,1089.7 L168.6,1090.8 L170.3,1091.7 L168.4,1092.8 L169.9,1093.7 L168.9,1094.8 L170.2,1095.7 L168.9,1096.8 L169.6,1097.7 L170.4,1096.8 L169.3,1095.7 L170.5,1094.7 L169.0,1093.6 L170.7,1092.7 L169.3,1091.6 L170.6,1090.6 L169.3,1089.5 L170.8,1088.5 L169.4,1087.4 L170.5,1086.5 L169.7,1085.4 L171.3,1084.4 L169.4,1083.3 L171.0,1082.4 L169.5,1081.3 L170.9,1080.3 L170.0,1079.2 L171.2,1078.3 L169.7,1077.2 L170.9,1076.2 L170.0,1075.1 L171.7,1074.2 L170.0,1073.1 L171.8,1072.1 L170.5,1071.0 L171.9,1070.1 L170.0,1069.0 L171.3,1068.0 L170.3,1066.9 L172.0,1066.0 L170.6,1064.9 L172.0,1063.9 L170.3,1062.8 L172.2,1061.9 L171.3,1060.8 L172.0,1059.8 L171.1,1058.7 L172.2,1057.8 L171.1,1056.7 L172.3,1055.7 L171.1,1054.7 L172.2,1053.7 L171.0,1052.6 L172.7,1051.7 L170.8,1050.6 L172.5,1049.6 L171.6,1048.6 L172.8,1047.6 L171.5,1046.5 L172.9,1045.6 L171.2,1044.5 L172.5,1043.5 L171.4,1042.4 L172.8,1041.5 L171.8,1040.4 L172.9,1039.4 L171.7,1038.4 L173.0,1037.4 L171.9,1036.3 L173.1,1035.4 L172.2,1034.3 L173.2,1033.3 L171.9,1032.2 L173.3,1031.3 L172.4,1030.2 L173.5,1029.3 L172.5,1028.2 L173.0,1027.2 L173.8,1020.5 L174.4,1024.0 L174.9,1008.5 L175.5,1023.7 L176.4,1008.8 L177.2,1022.4 L178.0,1009.5 L178.6,1024.0 L179.1,1006.9 L179.7,1010.4 L179.9,977.7 L181.7,917.9 L183.9,870.0 L184.9,846.7 L185.9,822.7 L187.1,798.8 L188.3,774.8 L190.1,756.9 L191.7,749.1 L193.1,744.3 L194.5,741.6 L196.1,740.4 L197.9,739.8 L203.9,738.9 L209.8,737.7 L214.6,738.0 L219.4,739.5 L223.0,743.1 L224.8,750.9 L226.0,768.9 L227.2,786.8 L227.6,822.7 L227.8,875.0 L229.0,929.8 L229.2,977.7 L230.8,989.7 L231.4,1030.0 L230.3,1069.2 L231.6,1106.1 L232.4,1112.7 L232.9,1187.0 L233.5,1113.2 L234.3,1175.8 L234.9,1109.3 L235.4,1187.0 L236.2,1114.2 L236.9,1187.0 L237.4,1095.9 L238.3,1176.9 L238.8,1092.5 L239.4,1151.7 L239.9,1090.8 L240.5,1122.5 L241.1,1085.8 L241.6,1126.5 L242.2,1088.5 L242.8,1109.7 L243.3,1079.1 L243.9,1095.4 L244.5,1067.3 L245.0,1092.9 L245.6,1065.2 L246.2,1076.1 L246.7,1058.9 L247.2,1067.7 L247.8,1053.9 L248.3,1066.0 L248.9,1055.7 L249.6,1062.6 L250.4,1051.0 L251.2,1059.9 L252.0,1048.6 L252.5,1057.6 L253.0,1047.2 L253.5,1057.1 L254.2,1047.8 L255.0,1055.6 L255.7,1048.9 L256.4,1055.1 L257.1,1045.4 L257.8,1052.0 L258.6,1044.6 L259.3,1053.9 L259.8,1043.8 L260.3,1054.3 L260.9,1043.7 L261.7,1049.7 L262.6,1043.9 L263.2,1052.6 L263.7,1040.5 L264.4,1047.0 L265.2,1033.7 L265.7,1049.2 L266.5,1038.8 L267.0,1052.6 L267.8,1049.9 L268.8,1060.8 L271.0,1111.2 L273.2,1146.5 L275.2,1077.6 L276.0,1035.6 L275.2,1034.5 L277.2,1033.7 L275.5,1032.5 L277.3,1031.6 L275.6,1030.5 L277.0,1029.6 L276.2,1028.5 L277.7,1027.6 L275.9,1026.4 L277.5,1025.6 L276.4,1024.5 L277.4,1023.5 L276.5,1022.4 L278.2,1021.6 L276.8,1020.4 L277.9,1019.5 L277.1,1018.4 L278.3,1017.5 L277.3,1016.4 L277.7,1015.4 L277.4,1014.1 L279.2,1013.7 L278.4,1012.2 L279.9,1011.7 L279.3,1010.3 L280.2,1009.6 L280.5,1008.2 L282.5,1009.3 L282.8,1007.9 L282.8,1009.3 L284.5,1009.3 L284.4,1010.7 L285.9,1010.9 L286.1,1012.1 L287.3,1012.9 L285.6,1014.3 L287.3,1015.0 L286.3,1016.3 L287.8,1017.0 L286.8,1018.3 L288.1,1019.0 L287.1,1020.3 L289.0,1021.0 L287.4,1022.4 L289.2,1023.0 L288.2,1024.3 L289.8,1025.0 L288.9,1026.3 L289.5,1027.2 L288.6,1028.3 L290.6,1029.1 L289.3,1030.3 L290.5,1031.2 L289.3,1032.3 L291.0,1033.1 L289.4,1034.3 L290.8,1035.2 L289.4,1036.4 L291.5,1037.2 L289.6,1038.4 L291.4,1039.2 L290.1,1040.4 L291.5,1041.2 L290.0,1042.4 L291.8,1043.3 L290.2,1044.4 L291.7,1045.3 L291.1,1046.4 L292.2,1047.3 L291.1,1048.4 L292.2,1049.3 L291.5,1050.4 L292.3,1051.3 L292.0,1052.4 L292.7,1053.4 L291.8,1054.5 L292.8,1055.4 L291.6,1056.5 L292.9,1057.4 L292.0,1058.6 L293.2,1059.5 L292.2,1060.6 L293.5,1061.5 L292.0,1062.7 L293.3,1063.6 L292.3,1064.7 L293.8,1065.6 L292.2,1066.8 L294.1,1067.6 L292.8,1068.8 L294.2,1069.7 L292.5,1070.8 L294.6,1071.7 L292.8,1072.9 L294.2,1073.8 L293.3,1074.9 L294.6,1075.8 L293.5,1076.9 L295.0,1077.8 L293.5,1079.0 L295.3,1079.8 L294.3,1080.9 L294.1,1079.9 L295.4,1079.0 L294.2,1077.9 L295.4,1077.0 L294.4,1075.9 L295.5,1075.0 L294.2,1073.8 L296.1,1073.0 L294.8,1071.8 L295.9,1070.9 L295.0,1069.8 L296.3,1068.9 L295.1,1067.8 L296.1,1066.9 L294.8,1065.7 L296.2,1064.9 L295.0,1063.7 L296.5,1062.9 L295.1,1061.7 L296.2,1060.8 L295.9,1059.8 L296.7,1058.8 L295.7,1057.7 L297.0,1056.8 L295.7,1055.7 L297.1,1054.8 L296.1,1053.7 L297.1,1052.7 L296.4,1051.7 L297.2,1050.7 L296.3,1049.7 L298.0,1048.8 L296.4,1047.6 L297.7,1046.7 L296.6,1045.6 L298.1,1044.7 L296.4,1043.6 L297.8,1042.7 L296.7,1041.6 L298.1,1040.7 L296.6,1039.6 L298.5,1038.7 L297.0,1037.6 L298.6,1036.7 L297.9,1035.6 L298.9,1034.7 L297.8,1033.5 L298.8,1032.6 L298.1,1031.4 L299.0,1030.5 L297.7,1029.3 L299.6,1028.5 L298.5,1027.3 L299.7,1026.4 L298.7,1025.2 L299.8,1024.4 L298.6,1023.1 L300.3,1022.3 L299.5,1021.2 L300.7,1020.3 L299.5,1019.1 L301.1,1018.3 L300.4,1017.1 L301.3,1016.4 L300.8,1015.0 L302.3,1014.6 L301.5,1013.1 L302.9,1012.6 L302.1,1011.1 L304.2,1010.9 L303.8,1009.6 L303.2,1010.9 L305.2,1011.5 L304.2,1013.0 L306.0,1013.6 L305.1,1015.1 L306.3,1015.9 L306.3,1017.1 L307.5,1060.8 L308.5,1111.2 L309.1,1153.2 L310.5,1077.6 L311.3,1047.4 L311.5,1046.0 L313.1,1045.4 L313.0,1044.0 L314.7,1060.8 L316.7,1146.5 L318.0,1094.4 L318.9,1052.4 L319.5,1051.4 L318.5,1050.2 L320.2,1049.4 L318.6,1048.2 L320.0,1047.3 L319.2,1046.1 L320.1,1045.2 L319.6,1044.1 L320.5,1043.1 L319.3,1041.9 L321.2,1041.1 L319.8,1039.9 L320.6,1039.0 L320.7,1037.8 L322.2,1037.4 L321.1,1035.6 L322.8,1035.3 L322.3,1033.8 L324.4,1033.7 L323.9,1032.2 L325.1,1032.0 L325.1,1030.3 L327.0,1030.9 L326.8,1028.9 L328.1,1028.9 L329.0,1029.7 L328.3,1031.3 L330.3,1031.6 L329.4,1033.3 L330.6,1033.9 L330.1,1035.0 L331.9,1035.8 L330.4,1037.1 L332.3,1037.8 L331.1,1039.0 L332.0,1039.9 L331.4,1041.0 L332.7,1041.9 L331.3,1043.1 L332.3,1044.0 L334.0,1077.6 L335.3,1044.0 L336.7,1043.4 L335.8,1041.9 L336.8,1041.1 L336.4,1039.7 L337.4,1039.0 L338.2,1036.8 L339.1,1039.1 L339.8,1030.8 L340.2,1040.0 L340.9,1029.8 L341.7,1036.1 L342.6,1028.6 L343.2,1036.5 L343.7,1025.6 L344.4,1033.2 L345.2,1021.6 L346.1,1025.0 L346.7,1015.1 L347.2,1026.0 L347.7,1015.4 L348.5,1023.0 L349.3,1015.6 L350.1,1024.4 L350.8,1014.3 L351.6,1022.5 L352.4,1014.3 L353.2,1022.5 L353.7,1013.4 L354.2,1022.6 L354.7,1013.6 L355.5,1020.8 L356.2,1013.9 L357.0,1021.0 L357.8,1014.5 L358.6,1019.8 L359.3,1012.2 L360.1,1018.5 L360.6,1011.6 L361.1,1019.1 L361.6,1011.1 L362.4,1018.0 L363.1,1010.2 L363.9,1016.5 L364.6,1009.6 L365.4,1015.8 L365.9,1008.1 L366.4,1015.6 L367.0,1008.0 L367.9,1010.1 L368.7,1002.8 L369.3,1006.9 L369.8,999.4 L370.5,1000.7 L371.3,990.2 L372.0,996.4 L372.5,985.5 L373.1,992.8 L373.9,984.6 L374.8,990.7 L375.4,982.0 L375.9,989.5 L376.4,982.9 L377.1,986.9 L377.9,981.2 L378.6,988.2 L379.3,981.9 L379.8,987.7 L380.3,980.3 L380.9,985.6 L381.8,978.4 L382.7,985.1 L383.3,975.1 L383.8,984.3 L384.6,977.1 L385.4,993.0 L385.9,978.5 L387.0,1031.0 L388.1,966.4 L388.6,993.0 L389.4,962.9 L389.9,979.0 L390.5,966.5 L391.4,971.4 L392.0,961.1 L392.5,968.6 L393.1,961.9 L394.0,966.0 L394.8,962.3 L395.5,966.8 L396.0,961.1 L396.6,964.4 L397.5,963.1 L396.7,964.2 L398.1,965.1 L396.6,966.2 L398.1,967.2 L396.9,968.2 L398.4,969.2 L396.8,970.3 L398.6,971.2 L396.8,972.3 L398.2,973.3 L396.7,974.3 L398.1,975.3 L397.0,976.3 L398.4,977.3 L397.5,978.4 L398.5,979.4 L397.5,980.4 L398.4,981.4 L397.0,982.4 L398.9,983.4 L397.5,984.5 L398.8,985.4 L397.4,986.5 L398.7,987.5 L397.8,988.5 L398.8,989.5 L397.3,990.6 L399.3,991.5 L397.5,992.6 L399.2,993.6 L397.7,994.6 L399.3,995.6 L397.5,996.7 L399.4,997.6 L398.0,998.7 L399.2,999.7 L398.2,1000.7 L399.3,1001.7 L397.9,1002.7 L399.4,1003.7 L397.9,1004.8 L399.2,1005.8 L398.3,1006.8 L399.3,1007.8 L397.9,1008.8 L399.3,1009.8 L397.8,1010.9 L398.8,1011.9 L399.8,963.4 L400.3,957.7 L400.9,961.9 L401.8,955.9 L402.4,959.9 L402.9,954.2 L403.4,959.7 L404.2,955.1 L405.0,958.8 L405.8,954.5 L406.5,958.9 L407.3,954.1 L408.1,958.5 L408.9,952.9 L409.4,958.1 L409.9,952.4 L410.4,956.9 L411.1,952.4 L411.8,957.2 L412.5,952.0 L413.3,956.7 L414.0,951.3 L414.7,956.4 L415.4,951.4 L416.2,954.9 L416.9,951.7 L417.6,955.3 L418.1,949.8 L418.6,955.5 L419.1,950.0 L419.8,953.6 L420.5,950.6 L421.2,953.4 L422.0,950.5 L422.7,953.3 L423.4,949.9 L424.1,953.5 L424.9,948.6 L425.6,952.5 L426.3,948.2 L426.8,952.9 L427.3,947.2 L427.8,952.5 L428.5,947.9 L429.2,952.0 L429.9,947.8 L430.7,950.9 L431.4,947.2 L432.1,951.8 L432.9,946.6 L433.6,949.8 L434.3,946.1 L435.0,951.3 L435.5,945.5 L436.0,951.2 L436.5,946.1 L437.2,951.3 L437.9,946.6 L438.7,950.0 L439.4,947.0 L440.1,951.9 L440.8,946.5 L441.6,951.8 L442.3,947.0 L443.0,950.7 L443.7,948.7 L444.2,952.9 L444.7,947.2 L445.2,951.1 L445.9,947.4 L446.6,951.7 L447.4,947.7 L448.1,951.8 L448.8,947.6 L449.5,952.2 L450.3,946.8 L451.0,952.2 L451.7,947.6 L452.4,952.0 L452.9,946.3 L453.4,952.0 L453.9,947.4 L454.6,951.7 L455.3,948.0 L456.1,952.0 L456.8,946.5 L457.5,950.6 L458.2,946.8 L459.0,950.3 L459.7,947.0 L460.4,952.0 L461.1,948.1 L461.6,952.0 L462.1,946.3 L462.6,951.4 L463.3,947.5 L464.0,950.9 L464.8,946.4 L465.5,950.7 L466.2,947.0 L466.9,950.9 L467.7,946.3 L468.4,951.5 L469.1,946.5 L469.8,950.3 L470.3,946.3 L470.8,952.0 L471.3,946.6 L472.0,952.0 L472.7,948.4 L473.5,952.5 L474.2,948.5 L474.9,951.6 L475.6,948.7 L476.4,952.8 L477.1,949.4 L477.8,953.4 L478.6,949.0 L479.0,953.8 L479.5,949.0 L480.0,953.8 L480.7,949.6 L481.5,954.4 L482.2,950.5 L482.9,953.4 L483.6,950.4 L484.4,954.7 L485.1,952.1 L485.8,955.7 L486.5,951.7 L487.3,955.9 L487.7,951.6 L488.2,956.4 L488.7,953.2 L489.5,955.0 L490.2,952.1 L491.0,956.5 L491.7,952.5 L492.5,955.2 L493.2,952.2 L493.9,956.7 L494.7,952.5 L495.4,955.5 L496.2,952.5 L496.9,957.0 L497.7,952.8 L498.2,957.3 L498.7,952.4 L498.5,955.9 L499.0,951.2 L499.4,954.5 L500.2,950.9 L500.9,954.6 L501.6,950.7 L502.3,953.4 L503.1,951.5 L503.8,953.8 L504.5,949.9 L505.2,953.5 L506.0,949.8 L506.7,953.4 L507.2,948.6 L507.7,953.3 L508.1,948.7 L508.9,952.3 L509.6,948.6 L510.3,952.7 L511.0,948.7 L511.8,951.0 L512.5,949.3 L513.2,952.1 L513.9,947.7 L514.7,951.2 L515.4,948.6 L515.9,951.9 L516.4,947.2 L516.8,951.2 L517.6,947.4 L518.3,950.2 L519.0,948.6 L519.7,951.5 L520.5,948.6 L521.2,951.6 L521.9,947.2 L522.6,950.1 L523.4,947.3 L524.1,950.0 L524.6,946.9 L525.1,951.5 L525.5,947.4 L526.3,949.6 L527.0,947.1 L527.7,950.2 L528.4,946.0 L529.2,949.6 L529.9,945.2 L530.6,949.1 L531.3,945.5 L532.1,948.4 L532.8,944.0 L533.3,948.4 L533.8,943.7 L534.2,947.8 L535.0,945.7 L535.7,948.5 L536.4,945.1 L537.2,948.5 L537.9,946.3 L538.6,949.5 L539.3,946.6 L540.1,950.4 L540.8,946.6 L541.5,951.3 L542.0,946.9 L542.5,951.5 L543.0,947.6 L543.7,951.7 L544.4,948.8 L545.1,950.7 L545.9,947.9 L546.6,952.3 L547.3,947.9 L548.0,951.9 L548.8,949.2 L549.5,952.5 L550.2,949.6 L550.7,953.3 L551.2,948.6 L551.7,953.1 L552.4,949.1 L553.1,953.7 L553.8,949.2 L554.6,952.6 L555.3,949.6 L556.0,954.2 L556.7,950.6 L557.5,954.3 L558.2,950.7 L558.9,954.9 L559.4,950.3 L559.9,955.0 L560.4,951.1 L561.1,954.0 L561.8,951.2 L562.5,956.0 L563.3,952.8 L564.0,955.5 L564.7,952.8 L565.4,956.1 L566.2,953.0 L566.9,957.4 L567.6,953.5 L568.1,958.1 L568.6,953.5 L569.1,957.6 L569.8,954.9 L570.5,957.6 L571.2,955.2 L572.0,959.0 L572.7,955.7 L573.4,959.4 L574.1,955.2 L574.9,959.5 L575.6,957.1 L576.3,960.0 L576.8,955.9 L577.3,960.6 L577.8,957.2 L578.5,960.1 L579.2,956.6 L579.9,960.5 L580.7,957.8 L581.4,961.5 L582.1,957.3 L582.9,962.1 L583.6,958.6 L584.3,961.0 L585.0,958.0 L585.5,962.8 L586.0,958.2 L586.5,961.8 L587.2,959.8 L587.9,962.2 L588.7,958.9 L589.4,963.2 L590.1,959.1 L590.8,963.5 L591.6,960.4 L592.3,963.9 L593.0,961.2 L593.7,964.2 L594.2,959.9 L594.7,964.6 L595.2,960.5 L595.9,963.9 L596.6,960.8 L597.4,963.8 L598.1,960.9 L598.8,963.6 L599.5,961.1 L600.3,963.0 L601.0,960.9 L601.7,962.7 L602.4,960.3 L602.9,964.1 L603.4,959.4 L603.9,964.0 L604.6,959.8 L605.3,963.7 L606.1,960.8 L606.8,964.0 L607.5,959.9 L608.2,964.4 L609.0,960.8 L609.7,964.7 L610.4,961.6 L611.1,964.7 L611.6,960.4 L612.1,965.1 L612.6,962.2 L613.4,965.3 L614.2,961.6 L615.0,966.4 L615.7,962.7 L616.5,965.6 L617.3,963.0 L618.1,967.4 L618.6,963.4 L619.1,968.1 L619.7,964.7 L620.6,967.8 L621.4,964.7 L622.1,969.8 L622.6,965.1 L623.2,964.7 L623.8,958.2 L624.3,962.8 L624.8,959.5 L625.5,963.0 L626.3,958.8 L627.0,961.9 L627.8,959.0 L628.5,963.2 L629.0,959.0 L629.5,963.7 L630.0,959.4 L630.7,962.7 L631.5,959.7 L632.2,963.1 L632.9,960.5 L633.6,964.1 L634.4,960.9 L635.1,965.2 L635.8,961.8 L636.5,964.4 L637.3,962.3 L637.7,966.3 L638.2,961.7 L638.7,965.7 L639.4,963.0 L640.1,965.4 L640.8,962.9 L641.5,966.0 L642.2,963.5 L642.9,966.2 L643.6,964.1 L644.3,968.0 L645.1,964.8 L645.8,967.3 L646.5,964.4 L647.2,968.8 L647.9,965.2 L648.6,968.1 L649.0,965.1 L649.5,969.8 L650.0,965.6 L650.8,969.4 L651.5,966.8 L652.2,970.0 L653.0,966.5 L653.7,970.6 L654.5,968.3 L655.2,971.2 L655.9,968.9 L656.7,970.9 L657.2,968.1 L657.7,972.1 L658.1,968.4 L658.9,972.3 L659.6,969.8 L660.3,972.1 L661.0,970.0 L661.8,972.7 L662.5,970.0 L663.2,973.2 L663.9,969.8 L664.7,973.4 L665.4,970.1 L665.9,974.2 L666.4,970.2 L666.8,974.1 L667.6,970.8 L668.3,974.7 L669.0,972.4 L669.7,974.3 L670.5,972.9 L671.2,975.8 L671.9,972.7 L672.6,975.7 L673.4,972.9 L674.1,976.7 L674.6,973.3 L675.1,977.3 L675.5,974.9 L676.3,977.8 L677.0,974.7 L677.7,978.0 L678.4,975.2 L679.2,977.9 L679.9,975.4 L680.6,978.6 L681.3,977.0 L682.1,979.9 L682.8,977.4 L683.3,980.8 L683.8,976.8 L684.6,981.3 L685.4,978.5 L685.9,982.5 L686.8,970.7 L687.3,974.7 L687.8,972.4 L688.5,975.1 L689.2,972.8 L690.0,976.1 L690.7,973.6 L691.5,976.7 L692.0,973.3 L692.5,977.3 L693.0,973.8 L693.7,976.9 L694.4,974.8 L695.1,976.8 L695.9,974.5 L696.6,978.2 L697.3,976.0 L698.0,978.3 L698.8,975.3 L699.5,979.4 L700.2,976.4 L700.7,979.9 L701.2,975.9 L701.7,980.5 L702.5,977.5 L703.3,981.4 L704.0,978.7 L704.8,982.3 L705.6,980.2 L706.3,983.9 L707.1,981.8 L707.6,985.1 L708.1,981.2 L708.8,985.0 L709.4,982.9 L709.9,986.9 L710.5,981.2 L711.1,982.5 L711.6,978.5 L712.2,982.4 L712.9,979.4 L713.7,981.8 L714.5,980.0 L715.2,982.9 L716.0,979.9 L716.8,982.6 L717.6,980.8 L718.1,984.3 L718.6,980.3 L719.1,983.2 L719.8,980.9 L720.5,983.6 L721.2,982.4 L722.0,984.3 L722.7,981.8 L723.4,984.5 L724.1,982.5 L724.9,986.2 L725.6,982.9 L726.3,986.1 L726.8,982.9 L727.3,986.9 L727.8,983.2 L728.5,987.4 L729.2,983.9 L729.9,987.8 L730.7,984.5 L731.4,988.0 L732.1,985.9 L732.9,988.6 L733.6,986.0 L734.3,989.6 L735.0,986.5 L735.5,990.3 L736.0,986.4 L736.5,990.4 L737.2,987.3 L737.9,990.1 L738.7,988.4 L739.4,991.8 L740.1,989.8 L740.8,992.2 L741.6,990.4 L742.3,992.6 L743.0,991.3 L743.7,994.1 L744.2,990.7 L744.7,994.7 L745.2,992.3 L745.9,995.1 L746.6,993.0 L747.4,996.1 L748.1,992.6 L748.8,996.7 L749.5,993.5 L750.3,997.4 L751.0,994.2 L751.7,997.8 L752.4,995.4 L752.9,999.1 L753.4,995.1 L754.0,999.0 L754.9,998.6 L755.8,1001.0 L756.4,999.4 L756.9,1003.4 L757.5,999.4 L758.4,999.9 L759.3,996.8 L759.9,998.2 L760.4,994.2 L761.0,998.6 L761.9,997.7 L762.5,1003.4 L763.0,999.4 L763.6,1005.1 L764.5,1006.6 L765.3,1010.1 L766.2,1004.3 L767.1,1000.2 L767.7,992.5 L768.2,996.4 L768.8,990.7 L769.5,992.1 L770.0,988.1 L770.6,994.0 L771.4,992.3 L772.1,998.2 L772.6,994.2 L773.1,997.7 L773.9,995.4 L774.6,999.3 L775.4,996.5 L776.2,999.7 L777.0,997.1 L777.7,1001.0 L778.5,998.9 L779.0,1002.5 L779.5,998.6 L780.0,1002.7 L780.7,999.1 L781.5,1002.9 L782.2,999.7 L782.9,1002.7 L783.6,1000.2 L784.4,1003.5 L785.1,1000.5 L785.8,1003.2 L786.5,1001.8 L787.3,1003.7 L787.7,1000.8 L788.2,1004.8 L788.7,1000.9 L789.4,1004.2 L790.1,1001.0 L790.8,1004.9 L791.5,1001.2 L792.3,1005.0 L793.0,1001.3 L793.7,1005.3 L794.4,1002.7 L795.1,1004.2 L795.6,1001.5 L796.1,1005.5 L796.6,1003.3 L797.1,1004.4 L797.6,1003.3 L798.4,1003.4 L799.1,1002.7 L799.9,1003.1 L800.6,1002.1 L801.4,1002.6 L802.1,1001.4 L802.8,1001.7 L803.3,1000.7 L803.8,1001.7 L804.3,1000.2 L805.1,1000.3 L805.8,999.2 L806.6,999.6 L807.3,998.1 L808.1,998.5 L808.8,997.0 L809.6,997.2 L810.1,996.0 L810.6,997.0 L811.1,995.5 L811.8,995.4 L812.6,994.3 L813.3,994.0 L814.0,992.7 L814.8,992.9 L815.5,991.4 L816.3,991.6 L816.8,989.9 L817.3,990.9 L817.8,989.5 L818.5,989.4 L819.3,988.4 L820.0,988.5 L820.8,987.1 L821.5,987.1 L822.3,986.0 L823.0,986.1 L823.5,984.5 L824.0,985.6 L824.5,983.9 L825.2,983.7 L826.0,981.9 L826.7,982.0 L827.5,980.2 L828.2,980.1 L829.0,978.5 L829.7,978.4 L830.2,976.5 L830.7,977.5 L831.2,976.0 L832.0,976.2 L832.7,974.7 L833.5,975.1 L834.2,973.7 L834.9,973.8 L835.7,972.3 L836.4,972.7 L836.9,971.1 L837.4,972.1 L837.9,970.2 L838.7,970.2 L839.4,968.5 L840.2,968.4 L840.9,966.6 L841.7,966.5 L842.4,964.8 L843.2,964.7 L843.7,963.0 L844.2,964.1 L844.7,962.5 L845.4,962.3 L846.1,960.7 L846.9,960.6 L847.6,959.0 L848.4,959.1 L849.1,957.3 L849.9,957.2 L850.4,955.6 L850.9,956.7 L851.4,954.9 L852.1,954.7 L852.9,953.4 L853.6,953.2 L854.4,951.7 L855.1,951.7 L855.8,950.0 L856.6,950.1 L857.1,948.2 L857.6,949.3 L858.1,947.6 L858.8,947.6 L859.6,945.9 L860.3,945.6 L861.1,944.4 L861.8,944.2 L862.6,942.6 L863.3,942.7 L863.8,940.9 L864.3,941.9 L864.8,940.0 L865.6,940.1 L866.3,938.5 L867.0,938.5 L867.8,937.0 L868.5,936.9 L869.3,935.4 L870.0,935.3 L870.5,933.5 L871.0,934.5 L871.5,932.8 L872.3,932.9 L873.0,931.3 L873.8,931.5 L874.5,929.8 L875.3,930.0 L876.0,928.3 L876.8,928.4 L877.2,926.7 L877.7,927.8 L878.2,926.2 L879.0,926.6 L879.7,925.0 L880.4,925.1 L881.1,924.2 L881.9,924.1 L882.4,922.7 L882.9,923.7" fill="none" stroke="#ff0000" stroke-width="4.0" stroke-linejoin="round" stroke-linecap="round"/>
<text x="87.1" y="738.2" text-anchor="end" class="t">0</text>
<text x="87.1" y="788.5" text-anchor="end" class="t">-10</text>
<text x="87.1" y="838.8" text-anchor="end" class="t">-20</text>
<text x="87.1" y="889.2" text-anchor="end" class="t">-30</text>
<text x="87.1" y="939.5" text-anchor="end" class="t">-40</text>
<text x="87.1" y="989.8" text-anchor="end" class="t">-50</text>
<text x="87.1" y="1040.1" text-anchor="end" class="t">-60</text>
<text x="87.1" y="1090.4" text-anchor="end" class="t">-70</text>
<text x="87.1" y="1140.8" text-anchor="end" class="t">-80</text>
<text x="87.1" y="1191.1" text-anchor="end" class="t">-90</text>
<text x="115.4" y="1231.7" text-anchor="middle" class="t">1500</text>
<text x="306.9" y="1231.7" text-anchor="middle" class="t">2000</text>
<text x="498.4" y="1231.7" text-anchor="middle" class="t">2500</text>
<text x="690.0" y="1231.7" text-anchor="middle" class="t">3000</text>
<text x="881.5" y="1231.7" text-anchor="middle" class="t">3500</text>
<text transform="translate(25,952.8) rotate(-90)" text-anchor="middle" class="t">Response [dB]</text>
<text x="499" y="1277.7" text-anchor="middle" class="t">Frequency [MHz]</text>
<line x1="636.3000000000001" y1="761.7" x2="693.9" y2="761.7" stroke="#0000ff" stroke-width="3.9" stroke-linecap="round"/>
<line x1="636.3000000000001" y1="814.7" x2="693.9" y2="814.7" stroke="#ff0000" stroke-width="3.9" stroke-linecap="round"/>
<text x="700.4" y="770.4" class="l">Conventional</text>
<text x="700.4" y="825.2" class="l">Optimized</text>
<text x="498.5" y="1331.3" text-anchor="middle" class="t">(b)</text>
</svg>
</body></html>
